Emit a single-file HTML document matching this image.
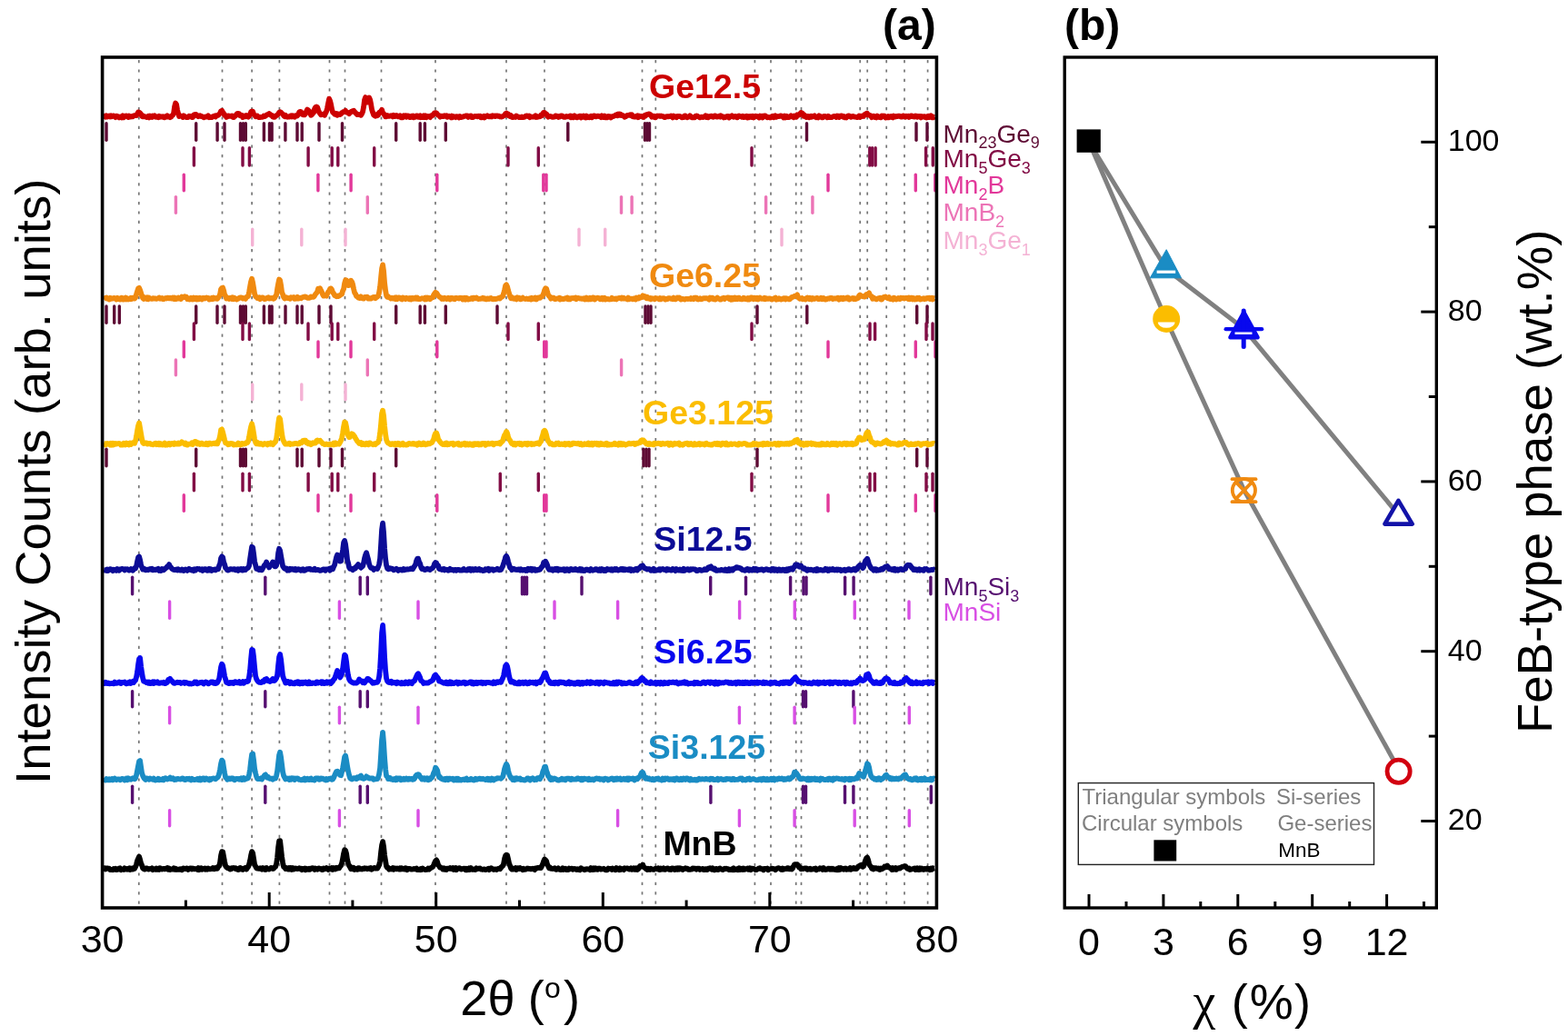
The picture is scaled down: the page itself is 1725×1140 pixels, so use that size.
<!DOCTYPE html>
<html><head><meta charset="utf-8"><title>XRD and FeB-type phase fraction</title>
<style>html,body{margin:0;padding:0;background:#fff;} svg{display:block;}</style></head>
<body>
<svg width="1725" height="1140" viewBox="0 0 1725 1140">
<rect width="1725" height="1140" fill="#fff"/>
<g stroke="#767676" stroke-width="1.7" stroke-dasharray="3.2 7.2" fill="none">
<line x1="152.8" y1="66" x2="152.8" y2="997"/>
<line x1="244.5" y1="66" x2="244.5" y2="997"/>
<line x1="277.1" y1="66" x2="277.1" y2="997"/>
<line x1="307.4" y1="66" x2="307.4" y2="997"/>
<line x1="362.5" y1="66" x2="362.5" y2="997"/>
<line x1="379.5" y1="66" x2="379.5" y2="997"/>
<line x1="419.5" y1="66" x2="419.5" y2="997"/>
<line x1="479.0" y1="66" x2="479.0" y2="997"/>
<line x1="557.0" y1="66" x2="557.0" y2="997"/>
<line x1="599.0" y1="66" x2="599.0" y2="997"/>
<line x1="706.5" y1="66" x2="706.5" y2="997"/>
<line x1="721.3" y1="66" x2="721.3" y2="997"/>
<line x1="830.4" y1="66" x2="830.4" y2="997"/>
<line x1="848.0" y1="66" x2="848.0" y2="997"/>
<line x1="875.7" y1="66" x2="875.7" y2="997"/>
<line x1="881.5" y1="66" x2="881.5" y2="997"/>
<line x1="946.2" y1="66" x2="946.2" y2="997"/>
<line x1="954.2" y1="66" x2="954.2" y2="997"/>
<line x1="975.2" y1="66" x2="975.2" y2="997"/>
<line x1="995.0" y1="66" x2="995.0" y2="997"/>
<line x1="1020.6" y1="66" x2="1020.6" y2="997"/>
</g>
<g stroke="#5e0b34" stroke-width="3.4" stroke-linecap="round">
<line x1="117.0" y1="135.8" x2="117.0" y2="154.2"/>
<line x1="215.7" y1="135.8" x2="215.7" y2="154.2"/>
<line x1="239.1" y1="135.8" x2="239.1" y2="154.2"/>
<line x1="247.0" y1="135.8" x2="247.0" y2="154.2"/>
<line x1="264.5" y1="135.8" x2="264.5" y2="154.2"/>
<line x1="267.5" y1="135.8" x2="267.5" y2="154.2"/>
<line x1="270.3" y1="135.8" x2="270.3" y2="154.2"/>
<line x1="290.4" y1="135.8" x2="290.4" y2="154.2"/>
<line x1="296.5" y1="135.8" x2="296.5" y2="154.2"/>
<line x1="299.1" y1="135.8" x2="299.1" y2="154.2"/>
<line x1="313.9" y1="135.8" x2="313.9" y2="154.2"/>
<line x1="327" y1="135.8" x2="327" y2="154.2"/>
<line x1="332.2" y1="135.8" x2="332.2" y2="154.2"/>
<line x1="351" y1="135.8" x2="351" y2="154.2"/>
<line x1="376.5" y1="135.8" x2="376.5" y2="154.2"/>
<line x1="435.7" y1="135.8" x2="435.7" y2="154.2"/>
<line x1="462.2" y1="135.8" x2="462.2" y2="154.2"/>
<line x1="467.4" y1="135.8" x2="467.4" y2="154.2"/>
<line x1="490.3" y1="135.8" x2="490.3" y2="154.2"/>
<line x1="624.8" y1="135.8" x2="624.8" y2="154.2"/>
<line x1="709.5" y1="135.8" x2="709.5" y2="154.2"/>
<line x1="712" y1="135.8" x2="712" y2="154.2"/>
<line x1="714.5" y1="135.8" x2="714.5" y2="154.2"/>
<line x1="887.5" y1="135.8" x2="887.5" y2="154.2"/>
<line x1="1008" y1="135.8" x2="1008" y2="154.2"/>
<line x1="1020" y1="135.8" x2="1020" y2="154.2"/>
</g>
<g stroke="#820c45" stroke-width="3.4" stroke-linecap="round">
<line x1="213.4" y1="162.7" x2="213.4" y2="182.1"/>
<line x1="267" y1="162.7" x2="267" y2="182.1"/>
<line x1="274.4" y1="162.7" x2="274.4" y2="182.1"/>
<line x1="339.1" y1="162.7" x2="339.1" y2="182.1"/>
<line x1="365.2" y1="162.7" x2="365.2" y2="182.1"/>
<line x1="371.8" y1="162.7" x2="371.8" y2="182.1"/>
<line x1="411.7" y1="162.7" x2="411.7" y2="182.1"/>
<line x1="559" y1="162.7" x2="559" y2="182.1"/>
<line x1="592.3" y1="162.7" x2="592.3" y2="182.1"/>
<line x1="827" y1="162.7" x2="827" y2="182.1"/>
<line x1="956.8" y1="162.7" x2="956.8" y2="182.1"/>
<line x1="959.6" y1="162.7" x2="959.6" y2="182.1"/>
<line x1="963.1" y1="162.7" x2="963.1" y2="182.1"/>
<line x1="1018.6" y1="162.7" x2="1018.6" y2="182.1"/>
<line x1="1026.3" y1="162.7" x2="1026.3" y2="182.1"/>
</g>
<g stroke="#e2389a" stroke-width="3.4" stroke-linecap="round">
<line x1="202.3" y1="192.2" x2="202.3" y2="209.8"/>
<line x1="349.9" y1="192.2" x2="349.9" y2="209.8"/>
<line x1="386.1" y1="192.2" x2="386.1" y2="209.8"/>
<line x1="480.8" y1="192.2" x2="480.8" y2="209.8"/>
<line x1="597.8" y1="192.2" x2="597.8" y2="209.8"/>
<line x1="601" y1="192.2" x2="601" y2="209.8"/>
<line x1="911" y1="192.2" x2="911" y2="209.8"/>
<line x1="1007.3" y1="192.2" x2="1007.3" y2="209.8"/>
<line x1="1028.8" y1="192.2" x2="1028.8" y2="209.8"/>
</g>
<g stroke="#ec74b6" stroke-width="3.4" stroke-linecap="round">
<line x1="193.4" y1="216.6" x2="193.4" y2="234.2"/>
<line x1="404.3" y1="216.6" x2="404.3" y2="234.2"/>
<line x1="683.5" y1="216.6" x2="683.5" y2="234.2"/>
<line x1="695.1" y1="216.6" x2="695.1" y2="234.2"/>
<line x1="842.6" y1="216.6" x2="842.6" y2="234.2"/>
<line x1="893.9" y1="216.6" x2="893.9" y2="234.2"/>
</g>
<g stroke="#f4b2d4" stroke-width="3.4" stroke-linecap="round">
<line x1="277.7" y1="252.2" x2="277.7" y2="269.8"/>
<line x1="331.8" y1="252.2" x2="331.8" y2="269.8"/>
<line x1="380" y1="252.2" x2="380" y2="269.8"/>
<line x1="637" y1="252.2" x2="637" y2="269.8"/>
<line x1="665.7" y1="252.2" x2="665.7" y2="269.8"/>
<line x1="860" y1="252.2" x2="860" y2="269.8"/>
</g>
<g stroke="#5e0b34" stroke-width="3.4" stroke-linecap="round">
<line x1="117" y1="336.9" x2="117" y2="355.3"/>
<line x1="125.7" y1="336.9" x2="125.7" y2="355.3"/>
<line x1="131.3" y1="336.9" x2="131.3" y2="355.3"/>
<line x1="215.7" y1="336.9" x2="215.7" y2="355.3"/>
<line x1="239" y1="336.9" x2="239" y2="355.3"/>
<line x1="247" y1="336.9" x2="247" y2="355.3"/>
<line x1="264.5" y1="336.9" x2="264.5" y2="355.3"/>
<line x1="267.5" y1="336.9" x2="267.5" y2="355.3"/>
<line x1="270.3" y1="336.9" x2="270.3" y2="355.3"/>
<line x1="290.4" y1="336.9" x2="290.4" y2="355.3"/>
<line x1="296.5" y1="336.9" x2="296.5" y2="355.3"/>
<line x1="299.1" y1="336.9" x2="299.1" y2="355.3"/>
<line x1="314" y1="336.9" x2="314" y2="355.3"/>
<line x1="327" y1="336.9" x2="327" y2="355.3"/>
<line x1="332.2" y1="336.9" x2="332.2" y2="355.3"/>
<line x1="351" y1="336.9" x2="351" y2="355.3"/>
<line x1="364" y1="336.9" x2="364" y2="355.3"/>
<line x1="435.7" y1="336.9" x2="435.7" y2="355.3"/>
<line x1="462.2" y1="336.9" x2="462.2" y2="355.3"/>
<line x1="467.4" y1="336.9" x2="467.4" y2="355.3"/>
<line x1="490.3" y1="336.9" x2="490.3" y2="355.3"/>
<line x1="547" y1="336.9" x2="547" y2="355.3"/>
<line x1="710" y1="336.9" x2="710" y2="355.3"/>
<line x1="713" y1="336.9" x2="713" y2="355.3"/>
<line x1="716" y1="336.9" x2="716" y2="355.3"/>
<line x1="833" y1="336.9" x2="833" y2="355.3"/>
<line x1="887.8" y1="336.9" x2="887.8" y2="355.3"/>
<line x1="1008.7" y1="336.9" x2="1008.7" y2="355.3"/>
<line x1="1020" y1="336.9" x2="1020" y2="355.3"/>
</g>
<g stroke="#820c45" stroke-width="3.4" stroke-linecap="round">
<line x1="213.4" y1="356.0" x2="213.4" y2="373.6"/>
<line x1="267" y1="356.0" x2="267" y2="373.6"/>
<line x1="274.4" y1="356.0" x2="274.4" y2="373.6"/>
<line x1="339" y1="356.0" x2="339" y2="373.6"/>
<line x1="365.2" y1="356.0" x2="365.2" y2="373.6"/>
<line x1="371.8" y1="356.0" x2="371.8" y2="373.6"/>
<line x1="411.7" y1="356.0" x2="411.7" y2="373.6"/>
<line x1="559" y1="356.0" x2="559" y2="373.6"/>
<line x1="592.3" y1="356.0" x2="592.3" y2="373.6"/>
<line x1="827" y1="356.0" x2="827" y2="373.6"/>
<line x1="957.0" y1="356.0" x2="957.0" y2="373.6"/>
<line x1="962.6" y1="356.0" x2="962.6" y2="373.6"/>
<line x1="1019" y1="356.0" x2="1019" y2="373.6"/>
<line x1="1026" y1="356.0" x2="1026" y2="373.6"/>
</g>
<g stroke="#e2389a" stroke-width="3.4" stroke-linecap="round">
<line x1="202.3" y1="376.0" x2="202.3" y2="392.8"/>
<line x1="350" y1="376.0" x2="350" y2="392.8"/>
<line x1="386" y1="376.0" x2="386" y2="392.8"/>
<line x1="480.8" y1="376.0" x2="480.8" y2="392.8"/>
<line x1="598.7" y1="376.0" x2="598.7" y2="392.8"/>
<line x1="601" y1="376.0" x2="601" y2="392.8"/>
<line x1="911" y1="376.0" x2="911" y2="392.8"/>
<line x1="1007.3" y1="376.0" x2="1007.3" y2="392.8"/>
<line x1="1029" y1="376.0" x2="1029" y2="392.8"/>
</g>
<g stroke="#ec74b6" stroke-width="3.4" stroke-linecap="round">
<line x1="193.4" y1="396.0" x2="193.4" y2="412.8"/>
<line x1="404.3" y1="396.0" x2="404.3" y2="412.8"/>
<line x1="683.6" y1="396.0" x2="683.6" y2="412.8"/>
</g>
<g stroke="#f4b2d4" stroke-width="3.4" stroke-linecap="round">
<line x1="277.7" y1="422.9" x2="277.7" y2="439.8"/>
<line x1="331.8" y1="422.9" x2="331.8" y2="439.8"/>
<line x1="380" y1="422.9" x2="380" y2="439.8"/>
</g>
<g stroke="#5e0b34" stroke-width="3.4" stroke-linecap="round">
<line x1="117" y1="494.2" x2="117" y2="512.8"/>
<line x1="215.7" y1="494.2" x2="215.7" y2="512.8"/>
<line x1="264.5" y1="494.2" x2="264.5" y2="512.8"/>
<line x1="267.5" y1="494.2" x2="267.5" y2="512.8"/>
<line x1="270.3" y1="494.2" x2="270.3" y2="512.8"/>
<line x1="327" y1="494.2" x2="327" y2="512.8"/>
<line x1="332.2" y1="494.2" x2="332.2" y2="512.8"/>
<line x1="351" y1="494.2" x2="351" y2="512.8"/>
<line x1="364" y1="494.2" x2="364" y2="512.8"/>
<line x1="376.5" y1="494.2" x2="376.5" y2="512.8"/>
<line x1="435.7" y1="494.2" x2="435.7" y2="512.8"/>
<line x1="708" y1="494.2" x2="708" y2="512.8"/>
<line x1="711" y1="494.2" x2="711" y2="512.8"/>
<line x1="714" y1="494.2" x2="714" y2="512.8"/>
<line x1="833" y1="494.2" x2="833" y2="512.8"/>
<line x1="1008.7" y1="494.2" x2="1008.7" y2="512.8"/>
<line x1="1020" y1="494.2" x2="1020" y2="512.8"/>
</g>
<g stroke="#820c45" stroke-width="3.4" stroke-linecap="round">
<line x1="213.4" y1="521.2" x2="213.4" y2="539.8"/>
<line x1="267" y1="521.2" x2="267" y2="539.8"/>
<line x1="274.4" y1="521.2" x2="274.4" y2="539.8"/>
<line x1="339.1" y1="521.2" x2="339.1" y2="539.8"/>
<line x1="365.2" y1="521.2" x2="365.2" y2="539.8"/>
<line x1="371.8" y1="521.2" x2="371.8" y2="539.8"/>
<line x1="411.7" y1="521.2" x2="411.7" y2="539.8"/>
<line x1="550.3" y1="521.2" x2="550.3" y2="539.8"/>
<line x1="592.3" y1="521.2" x2="592.3" y2="539.8"/>
<line x1="827" y1="521.2" x2="827" y2="539.8"/>
<line x1="957.0" y1="521.2" x2="957.0" y2="539.8"/>
<line x1="962.4" y1="521.2" x2="962.4" y2="539.8"/>
<line x1="1019" y1="521.2" x2="1019" y2="539.8"/>
<line x1="1026" y1="521.2" x2="1026" y2="539.8"/>
</g>
<g stroke="#e2389a" stroke-width="3.4" stroke-linecap="round">
<line x1="202.3" y1="544.7" x2="202.3" y2="562.3"/>
<line x1="350" y1="544.7" x2="350" y2="562.3"/>
<line x1="386" y1="544.7" x2="386" y2="562.3"/>
<line x1="480.8" y1="544.7" x2="480.8" y2="562.3"/>
<line x1="598.7" y1="544.7" x2="598.7" y2="562.3"/>
<line x1="601" y1="544.7" x2="601" y2="562.3"/>
<line x1="911" y1="544.7" x2="911" y2="562.3"/>
<line x1="1007.3" y1="544.7" x2="1007.3" y2="562.3"/>
<line x1="1029" y1="544.7" x2="1029" y2="562.3"/>
</g>
<g stroke="#561070" stroke-width="3.4" stroke-linecap="round">
<line x1="145.6" y1="635.2" x2="145.6" y2="653.8"/>
<line x1="291.8" y1="635.2" x2="291.8" y2="653.8"/>
<line x1="396.2" y1="635.2" x2="396.2" y2="653.8"/>
<line x1="404.3" y1="635.2" x2="404.3" y2="653.8"/>
<line x1="574.5" y1="635.2" x2="574.5" y2="653.8"/>
<line x1="577" y1="635.2" x2="577" y2="653.8"/>
<line x1="579.5" y1="635.2" x2="579.5" y2="653.8"/>
<line x1="640" y1="635.2" x2="640" y2="653.8"/>
<line x1="781.7" y1="635.2" x2="781.7" y2="653.8"/>
<line x1="820.5" y1="635.2" x2="820.5" y2="653.8"/>
<line x1="869.6" y1="635.2" x2="869.6" y2="653.8"/>
<line x1="884" y1="635.2" x2="884" y2="653.8"/>
<line x1="887" y1="635.2" x2="887" y2="653.8"/>
<line x1="929.6" y1="635.2" x2="929.6" y2="653.8"/>
<line x1="939.1" y1="635.2" x2="939.1" y2="653.8"/>
<line x1="1023.9" y1="635.2" x2="1023.9" y2="653.8"/>
</g>
<g stroke="#d84fe4" stroke-width="3.4" stroke-linecap="round">
<line x1="186.6" y1="661.9" x2="186.6" y2="680.3"/>
<line x1="373.4" y1="661.9" x2="373.4" y2="680.3"/>
<line x1="460" y1="661.9" x2="460" y2="680.3"/>
<line x1="610" y1="661.9" x2="610" y2="680.3"/>
<line x1="679.6" y1="661.9" x2="679.6" y2="680.3"/>
<line x1="813.6" y1="661.9" x2="813.6" y2="680.3"/>
<line x1="874.3" y1="661.9" x2="874.3" y2="680.3"/>
<line x1="940.3" y1="661.9" x2="940.3" y2="680.3"/>
<line x1="1000" y1="661.9" x2="1000" y2="680.3"/>
</g>
<g stroke="#561070" stroke-width="3.4" stroke-linecap="round">
<line x1="145.6" y1="760.8" x2="145.6" y2="777.8"/>
<line x1="291.8" y1="760.8" x2="291.8" y2="777.8"/>
<line x1="396.2" y1="760.8" x2="396.2" y2="777.8"/>
<line x1="404.3" y1="760.8" x2="404.3" y2="777.8"/>
<line x1="883.5" y1="760.8" x2="883.5" y2="777.8"/>
<line x1="886.5" y1="760.8" x2="886.5" y2="777.8"/>
<line x1="938.9" y1="760.8" x2="938.9" y2="777.8"/>
</g>
<g stroke="#d84fe4" stroke-width="3.4" stroke-linecap="round">
<line x1="186.6" y1="778.2" x2="186.6" y2="795.8"/>
<line x1="373.4" y1="778.2" x2="373.4" y2="795.8"/>
<line x1="460" y1="778.2" x2="460" y2="795.8"/>
<line x1="813.4" y1="778.2" x2="813.4" y2="795.8"/>
<line x1="874.1" y1="778.2" x2="874.1" y2="795.8"/>
<line x1="940.2" y1="778.2" x2="940.2" y2="795.8"/>
<line x1="1000.3" y1="778.2" x2="1000.3" y2="795.8"/>
</g>
<g stroke="#561070" stroke-width="3.4" stroke-linecap="round">
<line x1="145.6" y1="865.2" x2="145.6" y2="883.3"/>
<line x1="291.8" y1="865.2" x2="291.8" y2="883.3"/>
<line x1="396.2" y1="865.2" x2="396.2" y2="883.3"/>
<line x1="404.3" y1="865.2" x2="404.3" y2="883.3"/>
<line x1="781.9" y1="865.2" x2="781.9" y2="883.3"/>
<line x1="883.5" y1="865.2" x2="883.5" y2="883.3"/>
<line x1="886.5" y1="865.2" x2="886.5" y2="883.3"/>
<line x1="929.5" y1="865.2" x2="929.5" y2="883.3"/>
<line x1="938.9" y1="865.2" x2="938.9" y2="883.3"/>
<line x1="1024.3" y1="865.2" x2="1024.3" y2="883.3"/>
</g>
<g stroke="#d84fe4" stroke-width="3.4" stroke-linecap="round">
<line x1="186.6" y1="891.7" x2="186.6" y2="908.8"/>
<line x1="373.4" y1="891.7" x2="373.4" y2="908.8"/>
<line x1="460" y1="891.7" x2="460" y2="908.8"/>
<line x1="679.6" y1="891.7" x2="679.6" y2="908.8"/>
<line x1="813.4" y1="891.7" x2="813.4" y2="908.8"/>
<line x1="874.1" y1="891.7" x2="874.1" y2="908.8"/>
<line x1="940.2" y1="891.7" x2="940.2" y2="908.8"/>
<line x1="1000.3" y1="891.7" x2="1000.3" y2="908.8"/>
</g>
<polyline fill="none" stroke="#cc0000" stroke-width="5.8" stroke-linejoin="round" points="114.1,128.0 115.1,127.6 116.1,128.7 117.1,127.4 118.1,128.5 119.1,128.1 120.1,127.4 121.1,128.4 122.1,127.4 123.1,128.2 124.1,127.4 125.1,127.5 126.1,128.2 127.1,129.1 128.1,127.6 129.1,127.8 130.1,128.7 131.1,129.4 132.1,128.5 133.1,128.1 134.1,129.4 135.1,127.4 136.1,129.2 137.1,127.9 138.1,127.6 139.1,127.5 140.1,127.9 141.1,129.0 142.1,127.6 143.1,128.5 144.1,128.6 145.1,128.0 146.1,128.4 147.1,127.3 148.1,127.1 149.1,127.0 150.1,127.1 151.1,125.2 152.1,123.5 153.1,123.6 154.1,124.3 155.1,125.5 156.1,127.8 157.1,128.3 158.1,127.6 159.1,128.4 160.1,128.3 161.1,129.1 162.1,128.8 163.1,127.9 164.1,129.4 165.1,127.5 166.1,128.2 167.1,128.9 168.1,127.6 169.1,128.3 170.1,127.3 171.1,128.7 172.1,128.9 173.1,128.5 174.1,129.2 175.1,127.9 176.1,128.8 177.1,128.5 178.1,128.5 179.1,128.2 180.1,129.1 181.1,129.3 182.1,128.2 183.1,128.6 184.1,127.3 185.1,128.7 186.1,128.5 187.1,129.2 188.1,128.7 189.1,127.3 190.1,126.6 191.1,124.3 192.1,117.2 193.1,113.5 194.1,115.1 195.1,121.1 196.1,125.0 197.1,128.1 198.1,127.2 199.1,127.5 200.1,127.9 201.1,129.0 202.1,127.3 203.1,128.2 204.1,128.4 205.1,129.1 206.1,129.0 207.1,129.1 208.1,127.8 209.1,128.1 210.1,128.0 211.1,129.0 212.1,129.0 213.1,126.7 214.1,126.0 215.1,125.8 216.1,126.2 217.1,127.5 218.1,128.2 219.1,127.7 220.1,127.2 221.1,128.1 222.1,128.0 223.1,128.5 224.1,129.3 225.1,128.8 226.1,128.4 227.1,128.6 228.1,128.7 229.1,127.4 230.1,129.2 231.1,128.9 232.1,129.1 233.1,129.0 234.1,128.1 235.1,128.1 236.1,127.4 237.1,128.5 238.1,127.2 239.1,127.0 240.1,126.8 241.1,125.7 242.1,124.5 243.1,122.3 244.1,121.8 245.1,123.4 246.1,124.9 247.1,126.8 248.1,126.8 249.1,128.9 250.1,128.4 251.1,127.4 252.1,127.7 253.1,127.9 254.1,127.9 255.1,127.4 256.1,129.0 257.1,129.2 258.1,127.9 259.1,127.6 260.1,125.9 261.1,125.0 262.1,125.0 263.1,125.1 264.1,127.2 265.1,126.6 266.1,126.8 267.1,129.1 268.1,128.2 269.1,127.4 270.1,128.3 271.1,127.1 272.1,128.1 273.1,128.7 274.1,127.7 275.1,125.9 276.1,123.2 277.1,122.5 278.1,122.7 279.1,125.7 280.1,126.7 281.1,128.2 282.1,127.6 283.1,127.5 284.1,128.8 285.1,129.2 286.1,129.0 287.1,128.9 288.1,128.9 289.1,128.7 290.1,127.6 291.1,128.2 292.1,127.7 293.1,126.7 294.1,126.1 295.1,125.7 296.1,124.9 297.1,125.7 298.1,127.0 299.1,126.8 300.1,128.5 301.1,128.9 302.1,128.9 303.1,127.6 304.1,127.1 305.1,126.6 306.1,125.4 307.1,123.8 308.1,123.2 309.1,123.6 310.1,124.8 311.1,125.7 312.1,127.3 313.1,128.2 314.1,126.9 315.1,128.2 316.1,128.8 317.1,128.5 318.1,128.5 319.1,127.8 320.1,127.2 321.1,128.5 322.1,127.4 323.1,128.4 324.1,128.7 325.1,127.3 326.1,126.9 327.1,127.4 328.1,126.0 329.1,123.6 330.1,122.8 331.1,123.0 332.1,125.5 333.1,126.2 334.1,125.2 335.1,126.3 336.1,125.3 337.1,122.6 338.1,120.5 339.1,121.3 340.1,122.2 341.1,123.7 342.1,126.8 343.1,126.1 344.1,124.9 345.1,123.8 346.1,119.7 347.1,118.0 348.1,117.4 349.1,118.0 350.1,121.0 351.1,123.6 352.1,124.9 353.1,126.3 354.1,125.8 355.1,126.1 356.1,125.4 357.1,126.8 358.1,124.6 359.1,122.6 360.1,118.6 361.1,113.7 362.1,108.7 363.1,110.9 364.1,115.0 365.1,120.3 366.1,123.7 367.1,124.2 368.1,125.7 369.1,125.3 370.1,125.0 371.1,126.8 372.1,125.4 373.1,125.9 374.1,126.2 375.1,125.3 376.1,124.1 377.1,123.6 378.1,122.8 379.1,123.0 380.1,121.8 381.1,123.6 382.1,123.7 383.1,124.2 384.1,125.2 385.1,124.0 386.1,123.1 387.1,122.5 388.1,122.4 389.1,121.7 390.1,123.1 391.1,124.1 392.1,125.1 393.1,126.1 394.1,125.9 395.1,126.2 396.1,126.1 397.1,126.8 398.1,125.2 399.1,122.8 400.1,117.6 401.1,109.7 402.1,107.1 403.1,110.1 404.1,112.5 405.1,109.9 406.1,107.4 407.1,109.6 408.1,114.6 409.1,120.7 410.1,123.8 411.1,126.5 412.1,127.3 413.1,127.7 414.1,126.2 415.1,127.2 416.1,126.4 417.1,123.9 418.1,123.6 419.1,122.3 420.1,120.9 421.1,124.3 422.1,125.1 423.1,126.6 424.1,128.4 425.1,128.3 426.1,127.0 427.1,127.6 428.1,127.9 429.1,127.5 430.1,127.2 431.1,127.5 432.1,128.4 433.1,126.9 434.1,128.1 435.1,127.9 436.1,127.0 437.1,127.7 438.1,128.4 439.1,128.1 440.1,127.2 441.1,129.2 442.1,128.8 443.1,129.2 444.1,127.3 445.1,127.7 446.1,127.2 447.1,128.8 448.1,127.7 449.1,127.4 450.1,128.1 451.1,129.2 452.1,129.0 453.1,127.7 454.1,127.5 455.1,129.2 456.1,128.4 457.1,128.7 458.1,127.4 459.1,127.3 460.1,128.7 461.1,128.1 462.1,127.4 463.1,129.3 464.1,128.6 465.1,129.0 466.1,127.4 467.1,129.1 468.1,127.3 469.1,129.1 470.1,128.2 471.1,127.9 472.1,128.3 473.1,129.1 474.1,127.5 475.1,126.8 476.1,127.0 477.1,125.4 478.1,124.3 479.1,124.1 480.1,124.3 481.1,125.6 482.1,126.7 483.1,127.3 484.1,128.6 485.1,127.7 486.1,128.2 487.1,127.6 488.1,128.0 489.1,127.2 490.1,127.8 491.1,127.3 492.1,128.8 493.1,128.4 494.1,127.7 495.1,128.3 496.1,129.3 497.1,127.5 498.1,129.1 499.1,128.2 500.1,128.3 501.1,129.1 502.1,128.1 503.1,128.4 504.1,128.8 505.1,129.4 506.1,128.0 507.1,129.1 508.1,128.8 509.1,128.7 510.1,128.2 511.1,128.0 512.1,127.4 513.1,127.6 514.1,127.4 515.1,128.9 516.1,127.8 517.1,127.6 518.1,127.5 519.1,129.1 520.1,129.2 521.1,128.7 522.1,127.9 523.1,127.8 524.1,127.9 525.1,128.3 526.1,127.6 527.1,128.2 528.1,127.8 529.1,129.4 530.1,129.4 531.1,128.5 532.1,127.8 533.1,129.4 534.1,127.9 535.1,128.1 536.1,127.3 537.1,128.1 538.1,128.3 539.1,128.4 540.1,127.7 541.1,128.4 542.1,127.3 543.1,127.8 544.1,127.4 545.1,128.1 546.1,127.3 547.1,127.3 548.1,127.9 549.1,127.7 550.1,128.5 551.1,128.3 552.1,128.6 553.1,128.0 554.1,127.4 555.1,126.9 556.1,125.0 557.1,124.5 558.1,126.4 559.1,125.5 560.1,127.6 561.1,128.0 562.1,127.1 563.1,128.9 564.1,129.1 565.1,128.6 566.1,128.8 567.1,129.0 568.1,127.5 569.1,128.4 570.1,128.4 571.1,129.1 572.1,129.0 573.1,129.1 574.1,128.5 575.1,129.2 576.1,128.8 577.1,128.8 578.1,127.8 579.1,127.3 580.1,127.6 581.1,128.1 582.1,127.5 583.1,129.1 584.1,128.5 585.1,128.6 586.1,128.6 587.1,128.7 588.1,128.3 589.1,127.2 590.1,129.0 591.1,128.8 592.1,128.3 593.1,128.2 594.1,128.3 595.1,126.6 596.1,127.3 597.1,125.2 598.1,123.8 599.1,123.9 600.1,125.4 601.1,125.3 602.1,127.5 603.1,128.7 604.1,128.0 605.1,127.9 606.1,128.2 607.1,128.7 608.1,128.9 609.1,128.6 610.1,128.7 611.1,127.4 612.1,127.6 613.1,127.8 614.1,128.9 615.1,127.9 616.1,128.5 617.1,127.3 618.1,127.4 619.1,127.9 620.1,128.8 621.1,128.8 622.1,128.8 623.1,127.9 624.1,128.4 625.1,128.3 626.1,128.3 627.1,127.5 628.1,129.2 629.1,127.7 630.1,129.4 631.1,129.3 632.1,127.3 633.1,128.3 634.1,129.1 635.1,129.4 636.1,128.3 637.1,127.9 638.1,127.7 639.1,129.4 640.1,127.7 641.1,128.6 642.1,127.6 643.1,128.4 644.1,129.4 645.1,127.6 646.1,129.1 647.1,128.4 648.1,129.2 649.1,128.8 650.1,127.8 651.1,129.3 652.1,128.4 653.1,127.3 654.1,127.3 655.1,128.4 656.1,128.3 657.1,127.9 658.1,127.6 659.1,128.0 660.1,128.0 661.1,129.1 662.1,127.3 663.1,128.9 664.1,129.1 665.1,127.5 666.1,129.3 667.1,128.8 668.1,129.2 669.1,127.9 670.1,128.1 671.1,128.1 672.1,129.4 673.1,128.5 674.1,127.9 675.1,128.0 676.1,127.5 677.1,126.6 678.1,126.2 679.1,127.3 680.1,125.6 681.1,126.8 682.1,125.5 683.1,126.1 684.1,127.2 685.1,126.9 686.1,127.5 687.1,128.8 688.1,128.4 689.1,127.8 690.1,126.8 691.1,126.9 692.1,126.8 693.1,126.2 694.1,127.1 695.1,126.2 696.1,128.2 697.1,127.9 698.1,128.7 699.1,128.6 700.1,127.8 701.1,127.3 702.1,129.2 703.1,127.5 704.1,128.2 705.1,127.9 706.1,127.8 707.1,128.7 708.1,129.0 709.1,127.1 710.1,127.5 711.1,126.1 712.1,126.2 713.1,125.6 714.1,125.4 715.1,125.9 716.1,126.6 717.1,128.6 718.1,128.0 719.1,127.6 720.1,129.2 721.1,129.4 722.1,128.2 723.1,127.5 724.1,127.7 725.1,127.5 726.1,128.0 727.1,127.5 728.1,127.8 729.1,127.8 730.1,128.5 731.1,129.2 732.1,128.9 733.1,128.2 734.1,128.2 735.1,128.4 736.1,128.1 737.1,128.0 738.1,127.4 739.1,127.9 740.1,129.4 741.1,127.6 742.1,128.4 743.1,128.7 744.1,129.2 745.1,127.8 746.1,127.9 747.1,127.8 748.1,128.2 749.1,128.3 750.1,129.4 751.1,129.2 752.1,129.2 753.1,127.3 754.1,127.4 755.1,128.9 756.1,129.3 757.1,128.3 758.1,128.6 759.1,127.3 760.1,128.2 761.1,129.3 762.1,129.1 763.1,129.2 764.1,129.4 765.1,127.8 766.1,127.5 767.1,127.6 768.1,128.4 769.1,128.8 770.1,129.4 771.1,128.9 772.1,128.7 773.1,129.0 774.1,128.3 775.1,128.5 776.1,127.4 777.1,129.0 778.1,127.8 779.1,129.3 780.1,128.7 781.1,128.0 782.1,127.6 783.1,127.9 784.1,128.7 785.1,128.8 786.1,127.5 787.1,127.5 788.1,128.5 789.1,128.6 790.1,128.2 791.1,127.8 792.1,128.6 793.1,127.3 794.1,128.0 795.1,128.3 796.1,129.4 797.1,128.7 798.1,129.2 799.1,128.3 800.1,127.8 801.1,127.8 802.1,129.4 803.1,128.8 804.1,128.0 805.1,127.3 806.1,128.4 807.1,128.8 808.1,128.2 809.1,127.9 810.1,128.8 811.1,129.3 812.1,127.8 813.1,127.4 814.1,128.0 815.1,128.2 816.1,128.8 817.1,127.7 818.1,129.1 819.1,128.9 820.1,128.4 821.1,127.7 822.1,129.4 823.1,128.0 824.1,129.1 825.1,127.8 826.1,127.8 827.1,129.0 828.1,127.9 829.1,129.4 830.1,128.4 831.1,127.7 832.1,127.8 833.1,128.2 834.1,128.8 835.1,129.4 836.1,127.6 837.1,128.2 838.1,127.8 839.1,129.4 840.1,127.6 841.1,127.4 842.1,127.4 843.1,128.2 844.1,129.3 845.1,129.2 846.1,128.9 847.1,129.5 848.1,129.3 849.1,128.0 850.1,127.7 851.1,129.3 852.1,128.9 853.1,127.4 854.1,128.7 855.1,128.1 856.1,128.1 857.1,128.0 858.1,127.7 859.1,127.3 860.1,127.9 861.1,128.1 862.1,129.4 863.1,127.5 864.1,129.4 865.1,127.7 866.1,128.1 867.1,129.1 868.1,129.1 869.1,128.2 870.1,127.3 871.1,128.3 872.1,128.0 873.1,129.2 874.1,127.5 875.1,127.8 876.1,128.7 877.1,126.3 878.1,126.5 879.1,126.5 880.1,125.7 881.1,123.9 882.1,124.2 883.1,125.0 884.1,127.7 885.1,126.9 886.1,128.4 887.1,129.0 888.1,127.9 889.1,127.8 890.1,129.3 891.1,128.6 892.1,127.8 893.1,128.8 894.1,128.0 895.1,127.9 896.1,127.3 897.1,128.9 898.1,129.3 899.1,128.7 900.1,129.4 901.1,127.3 902.1,127.8 903.1,128.3 904.1,129.4 905.1,129.4 906.1,128.1 907.1,127.8 908.1,128.2 909.1,128.4 910.1,129.3 911.1,127.7 912.1,129.1 913.1,128.9 914.1,129.1 915.1,129.0 916.1,128.6 917.1,128.0 918.1,128.0 919.1,128.1 920.1,129.0 921.1,127.5 922.1,127.7 923.1,128.9 924.1,127.8 925.1,127.4 926.1,127.4 927.1,128.5 928.1,128.0 929.1,129.4 930.1,129.2 931.1,129.5 932.1,127.9 933.1,127.5 934.1,127.5 935.1,128.4 936.1,128.8 937.1,128.3 938.1,127.8 939.1,128.2 940.1,128.6 941.1,128.7 942.1,128.9 943.1,129.1 944.1,128.7 945.1,127.5 946.1,129.0 947.1,127.8 948.1,128.2 949.1,127.5 950.1,127.9 951.1,126.0 952.1,125.5 953.1,124.9 954.1,124.7 955.1,126.7 956.1,126.7 957.1,126.8 958.1,127.5 959.1,129.1 960.1,128.2 961.1,127.7 962.1,129.0 963.1,128.7 964.1,129.4 965.1,127.5 966.1,128.3 967.1,129.1 968.1,129.1 969.1,129.3 970.1,127.4 971.1,127.9 972.1,127.5 973.1,127.7 974.1,129.4 975.1,128.6 976.1,129.3 977.1,128.1 978.1,129.2 979.1,128.3 980.1,127.9 981.1,129.0 982.1,129.4 983.1,127.5 984.1,128.6 985.1,128.7 986.1,127.8 987.1,128.1 988.1,127.6 989.1,127.7 990.1,127.9 991.1,128.6 992.1,128.7 993.1,127.7 994.1,127.3 995.1,128.0 996.1,128.8 997.1,127.7 998.1,128.0 999.1,127.7 1000.1,129.0 1001.1,128.5 1002.1,127.4 1003.1,127.5 1004.1,128.2 1005.1,128.5 1006.1,128.7 1007.1,127.5 1008.1,127.7 1009.1,128.8 1010.1,128.2 1011.1,127.9 1012.1,128.0 1013.1,129.4 1014.1,128.0 1015.1,128.5 1016.1,128.1 1017.1,128.2 1018.1,129.2 1019.1,129.5 1020.1,128.1 1021.1,127.7 1022.1,128.9 1023.1,127.7 1024.1,127.3 1025.1,129.3 1026.1,128.2 1027.1,129.1 1028.1,128.2"/>
<polyline fill="none" stroke="#f08a10" stroke-width="5.8" stroke-linejoin="round" points="114.1,329.4 115.1,328.5 116.1,327.8 117.1,327.5 118.1,328.7 119.1,328.9 120.1,329.5 121.1,327.7 122.1,328.8 123.1,328.3 124.1,328.6 125.1,327.8 126.1,328.1 127.1,328.6 128.1,329.5 129.1,327.7 130.1,328.5 131.1,329.2 132.1,329.6 133.1,327.9 134.1,327.7 135.1,329.5 136.1,329.6 137.1,328.5 138.1,327.5 139.1,329.5 140.1,328.3 141.1,329.4 142.1,328.7 143.1,329.2 144.1,327.7 145.1,329.0 146.1,327.7 147.1,327.9 148.1,328.5 149.1,327.4 150.1,323.7 151.1,320.3 152.1,317.3 153.1,316.8 154.1,319.1 155.1,322.3 156.1,325.4 157.1,327.9 158.1,328.9 159.1,327.2 160.1,328.5 161.1,329.0 162.1,327.4 163.1,329.2 164.1,327.6 165.1,328.7 166.1,328.6 167.1,328.8 168.1,328.1 169.1,328.4 170.1,328.7 171.1,328.4 172.1,328.9 173.1,328.4 174.1,328.4 175.1,327.5 176.1,328.8 177.1,328.5 178.1,328.0 179.1,329.1 180.1,329.2 181.1,328.5 182.1,327.9 183.1,328.5 184.1,327.7 185.1,327.7 186.1,328.4 187.1,327.7 188.1,328.4 189.1,328.6 190.1,327.5 191.1,328.9 192.1,327.6 193.1,329.1 194.1,329.1 195.1,328.5 196.1,327.5 197.1,328.5 198.1,328.1 199.1,329.0 200.1,326.6 201.1,327.3 202.1,326.8 203.1,326.2 204.1,327.2 205.1,326.7 206.1,329.1 207.1,328.3 208.1,329.5 209.1,329.4 210.1,327.8 211.1,329.2 212.1,329.5 213.1,327.6 214.1,328.2 215.1,329.1 216.1,327.8 217.1,329.4 218.1,328.1 219.1,329.2 220.1,327.8 221.1,328.5 222.1,329.5 223.1,327.9 224.1,328.0 225.1,328.5 226.1,328.1 227.1,327.5 228.1,327.8 229.1,327.8 230.1,329.5 231.1,328.9 232.1,329.3 233.1,327.7 234.1,329.1 235.1,327.6 236.1,328.4 237.1,328.6 238.1,327.9 239.1,328.8 240.1,327.5 241.1,326.0 242.1,323.8 243.1,318.1 244.1,317.0 245.1,316.6 246.1,319.6 247.1,324.3 248.1,325.7 249.1,328.6 250.1,328.2 251.1,327.9 252.1,328.9 253.1,328.2 254.1,327.7 255.1,328.9 256.1,327.4 257.1,329.1 258.1,327.9 259.1,328.7 260.1,329.5 261.1,328.6 262.1,328.8 263.1,328.0 264.1,327.3 265.1,327.3 266.1,327.5 267.1,328.5 268.1,328.1 269.1,328.2 270.1,328.9 271.1,327.0 272.1,326.6 273.1,326.0 274.1,321.1 275.1,315.2 276.1,309.8 277.1,306.7 278.1,310.9 279.1,317.0 280.1,323.2 281.1,326.3 282.1,326.7 283.1,328.1 284.1,328.0 285.1,327.3 286.1,329.2 287.1,327.7 288.1,327.5 289.1,327.4 290.1,328.6 291.1,329.1 292.1,328.9 293.1,328.1 294.1,327.8 295.1,327.2 296.1,328.6 297.1,328.4 298.1,327.9 299.1,328.4 300.1,327.9 301.1,328.8 302.1,328.0 303.1,325.8 304.1,324.6 305.1,317.8 306.1,312.4 307.1,307.5 308.1,308.4 309.1,313.9 310.1,321.6 311.1,323.9 312.1,327.0 313.1,328.5 314.1,327.0 315.1,327.3 316.1,328.2 317.1,328.0 318.1,328.4 319.1,328.8 320.1,327.3 321.1,327.7 322.1,327.6 323.1,327.0 324.1,328.9 325.1,328.6 326.1,328.4 327.1,326.8 328.1,328.6 329.1,328.4 330.1,327.7 331.1,328.3 332.1,327.6 333.1,327.0 334.1,326.7 335.1,326.9 336.1,326.4 337.1,327.0 338.1,327.8 339.1,327.6 340.1,327.9 341.1,327.5 342.1,326.4 343.1,326.9 344.1,326.4 345.1,326.7 346.1,325.4 347.1,323.6 348.1,322.5 349.1,321.1 350.1,317.6 351.1,318.3 352.1,317.3 353.1,319.6 354.1,321.6 355.1,324.3 356.1,325.7 357.1,325.7 358.1,324.8 359.1,325.6 360.1,323.3 361.1,321.2 362.1,320.3 363.1,317.7 364.1,317.4 365.1,318.8 366.1,321.9 367.1,322.9 368.1,325.1 369.1,325.5 370.1,326.2 371.1,325.4 372.1,326.0 373.1,325.6 374.1,324.9 375.1,324.1 376.1,323.8 377.1,320.1 378.1,318.0 379.1,311.8 380.1,308.2 381.1,308.4 382.1,312.9 383.1,314.1 384.1,313.9 385.1,311.4 386.1,308.8 387.1,310.0 388.1,313.0 389.1,317.8 390.1,322.1 391.1,323.4 392.1,326.0 393.1,326.2 394.1,327.6 395.1,327.8 396.1,328.1 397.1,326.4 398.1,328.2 399.1,328.4 400.1,328.6 401.1,326.8 402.1,327.0 403.1,326.9 404.1,326.7 405.1,328.6 406.1,328.5 407.1,328.1 408.1,328.6 409.1,328.1 410.1,327.3 411.1,326.9 412.1,326.8 413.1,328.2 414.1,326.8 415.1,326.6 416.1,325.7 417.1,321.8 418.1,315.7 419.1,305.3 420.1,295.5 421.1,291.4 422.1,298.5 423.1,311.4 424.1,319.5 425.1,325.3 426.1,326.8 427.1,326.3 428.1,327.5 429.1,327.7 430.1,328.6 431.1,327.8 432.1,328.6 433.1,328.3 434.1,327.6 435.1,329.1 436.1,327.4 437.1,329.1 438.1,327.7 439.1,327.3 440.1,327.8 441.1,329.0 442.1,329.5 443.1,327.4 444.1,328.4 445.1,328.4 446.1,329.1 447.1,327.8 448.1,328.5 449.1,328.1 450.1,329.2 451.1,328.0 452.1,329.5 453.1,328.0 454.1,327.9 455.1,328.9 456.1,328.5 457.1,327.6 458.1,328.8 459.1,327.6 460.1,329.1 461.1,328.9 462.1,329.1 463.1,328.8 464.1,328.2 465.1,328.3 466.1,328.3 467.1,329.4 468.1,327.6 469.1,329.3 470.1,327.4 471.1,327.8 472.1,327.9 473.1,329.2 474.1,328.1 475.1,327.3 476.1,327.4 477.1,324.4 478.1,323.1 479.1,321.8 480.1,322.3 481.1,323.7 482.1,325.4 483.1,326.3 484.1,327.2 485.1,327.3 486.1,329.0 487.1,328.7 488.1,329.0 489.1,327.7 490.1,328.3 491.1,329.1 492.1,328.7 493.1,327.7 494.1,328.4 495.1,329.4 496.1,328.0 497.1,327.9 498.1,328.1 499.1,329.0 500.1,329.3 501.1,327.8 502.1,327.8 503.1,328.0 504.1,328.2 505.1,328.6 506.1,327.8 507.1,328.2 508.1,327.9 509.1,329.6 510.1,329.1 511.1,327.7 512.1,329.6 513.1,327.7 514.1,328.3 515.1,329.6 516.1,329.2 517.1,329.1 518.1,328.4 519.1,327.9 520.1,328.9 521.1,327.7 522.1,327.9 523.1,328.3 524.1,327.5 525.1,328.3 526.1,329.2 527.1,329.0 528.1,328.6 529.1,328.8 530.1,328.5 531.1,327.8 532.1,328.8 533.1,328.3 534.1,329.1 535.1,329.4 536.1,328.4 537.1,328.7 538.1,329.1 539.1,328.3 540.1,327.9 541.1,329.0 542.1,329.3 543.1,329.1 544.1,328.9 545.1,329.2 546.1,328.8 547.1,328.7 548.1,328.2 549.1,327.8 550.1,328.4 551.1,326.9 552.1,326.8 553.1,326.0 554.1,322.9 555.1,318.9 556.1,314.4 557.1,313.4 558.1,315.5 559.1,319.7 560.1,322.9 561.1,326.1 562.1,328.1 563.1,327.1 564.1,328.5 565.1,328.8 566.1,328.1 567.1,328.3 568.1,329.4 569.1,327.4 570.1,328.5 571.1,327.7 572.1,329.1 573.1,329.4 574.1,328.5 575.1,327.6 576.1,328.7 577.1,328.6 578.1,329.0 579.1,328.5 580.1,328.8 581.1,329.2 582.1,328.6 583.1,328.3 584.1,329.5 585.1,327.9 586.1,328.9 587.1,328.2 588.1,329.0 589.1,327.6 590.1,329.5 591.1,328.1 592.1,327.4 593.1,327.8 594.1,327.9 595.1,326.6 596.1,326.6 597.1,324.9 598.1,322.9 599.1,319.2 600.1,317.2 601.1,317.6 602.1,321.2 603.1,324.5 604.1,325.9 605.1,326.6 606.1,328.6 607.1,327.9 608.1,327.7 609.1,327.6 610.1,329.0 611.1,329.1 612.1,328.8 613.1,328.4 614.1,328.6 615.1,327.9 616.1,329.5 617.1,328.2 618.1,328.8 619.1,329.2 620.1,329.2 621.1,328.5 622.1,328.1 623.1,328.7 624.1,327.7 625.1,329.3 626.1,328.2 627.1,329.3 628.1,328.1 629.1,328.3 630.1,328.0 631.1,328.4 632.1,327.9 633.1,327.5 634.1,329.1 635.1,328.1 636.1,328.0 637.1,328.1 638.1,328.5 639.1,328.4 640.1,328.9 641.1,328.9 642.1,328.3 643.1,329.5 644.1,329.4 645.1,327.6 646.1,329.3 647.1,329.5 648.1,329.2 649.1,327.8 650.1,329.3 651.1,328.9 652.1,327.5 653.1,327.5 654.1,329.6 655.1,328.9 656.1,328.0 657.1,327.7 658.1,327.8 659.1,328.0 660.1,329.2 661.1,328.3 662.1,327.8 663.1,329.5 664.1,329.2 665.1,327.9 666.1,329.5 667.1,328.8 668.1,329.2 669.1,329.0 670.1,329.5 671.1,329.2 672.1,329.3 673.1,327.9 674.1,329.0 675.1,328.7 676.1,329.1 677.1,328.5 678.1,329.4 679.1,328.7 680.1,328.1 681.1,328.0 682.1,327.8 683.1,328.6 684.1,327.6 685.1,328.5 686.1,327.8 687.1,328.6 688.1,328.6 689.1,328.7 690.1,329.4 691.1,327.5 692.1,329.3 693.1,328.5 694.1,328.7 695.1,328.9 696.1,329.3 697.1,328.3 698.1,328.4 699.1,329.5 700.1,327.6 701.1,328.7 702.1,328.6 703.1,327.0 704.1,327.8 705.1,327.4 706.1,327.2 707.1,325.4 708.1,326.7 709.1,326.0 710.1,326.7 711.1,328.2 712.1,326.9 713.1,328.7 714.1,328.7 715.1,328.1 716.1,329.3 717.1,328.2 718.1,328.5 719.1,328.6 720.1,329.2 721.1,327.9 722.1,328.4 723.1,328.4 724.1,328.7 725.1,329.3 726.1,328.1 727.1,329.3 728.1,328.4 729.1,328.6 730.1,328.1 731.1,328.6 732.1,329.6 733.1,328.9 734.1,329.2 735.1,328.2 736.1,328.2 737.1,328.1 738.1,328.8 739.1,328.9 740.1,329.2 741.1,327.6 742.1,329.1 743.1,329.4 744.1,328.7 745.1,327.6 746.1,328.2 747.1,327.5 748.1,327.9 749.1,329.5 750.1,328.8 751.1,328.9 752.1,329.2 753.1,329.5 754.1,328.8 755.1,328.9 756.1,328.9 757.1,329.0 758.1,328.8 759.1,329.0 760.1,328.0 761.1,329.0 762.1,328.5 763.1,329.2 764.1,327.7 765.1,327.9 766.1,327.6 767.1,329.2 768.1,329.5 769.1,328.9 770.1,328.3 771.1,329.3 772.1,329.2 773.1,328.7 774.1,328.1 775.1,328.2 776.1,328.4 777.1,328.2 778.1,328.4 779.1,328.9 780.1,329.6 781.1,327.6 782.1,328.7 783.1,327.6 784.1,327.8 785.1,329.3 786.1,328.8 787.1,329.5 788.1,328.5 789.1,327.5 790.1,328.3 791.1,328.8 792.1,329.6 793.1,329.7 794.1,328.5 795.1,328.4 796.1,327.7 797.1,328.9 798.1,328.0 799.1,327.8 800.1,327.5 801.1,327.5 802.1,329.0 803.1,327.8 804.1,329.6 805.1,327.7 806.1,329.4 807.1,327.8 808.1,327.5 809.1,329.1 810.1,328.0 811.1,329.1 812.1,327.9 813.1,327.6 814.1,329.2 815.1,329.1 816.1,329.4 817.1,329.1 818.1,327.7 819.1,328.9 820.1,329.1 821.1,328.5 822.1,329.5 823.1,328.1 824.1,329.6 825.1,329.1 826.1,327.5 827.1,327.5 828.1,328.9 829.1,329.3 830.1,327.7 831.1,328.2 832.1,329.1 833.1,327.9 834.1,329.4 835.1,328.6 836.1,327.6 837.1,328.3 838.1,328.8 839.1,328.5 840.1,329.0 841.1,327.8 842.1,329.2 843.1,328.3 844.1,328.9 845.1,328.9 846.1,328.4 847.1,328.3 848.1,329.2 849.1,329.6 850.1,329.2 851.1,328.7 852.1,328.1 853.1,327.6 854.1,329.6 855.1,329.0 856.1,329.3 857.1,328.2 858.1,328.8 859.1,329.6 860.1,329.3 861.1,328.8 862.1,328.1 863.1,328.4 864.1,329.4 865.1,328.3 866.1,328.9 867.1,328.7 868.1,329.4 869.1,329.1 870.1,327.9 871.1,327.0 872.1,327.0 873.1,326.5 874.1,325.8 875.1,325.5 876.1,325.5 877.1,324.4 878.1,327.2 879.1,328.1 880.1,328.8 881.1,328.5 882.1,327.9 883.1,329.3 884.1,329.2 885.1,328.9 886.1,329.5 887.1,328.2 888.1,327.6 889.1,328.7 890.1,329.2 891.1,327.9 892.1,329.1 893.1,329.5 894.1,328.0 895.1,328.8 896.1,329.0 897.1,328.5 898.1,327.9 899.1,328.0 900.1,329.1 901.1,329.2 902.1,328.5 903.1,327.7 904.1,329.3 905.1,329.2 906.1,328.0 907.1,328.8 908.1,329.5 909.1,329.4 910.1,328.6 911.1,328.5 912.1,328.8 913.1,327.9 914.1,327.9 915.1,327.9 916.1,329.0 917.1,328.3 918.1,328.7 919.1,328.4 920.1,328.6 921.1,327.8 922.1,327.6 923.1,329.7 924.1,328.3 925.1,327.7 926.1,328.9 927.1,329.2 928.1,327.8 929.1,328.8 930.1,328.2 931.1,328.6 932.1,327.5 933.1,327.5 934.1,329.6 935.1,329.3 936.1,328.5 937.1,328.7 938.1,328.0 939.1,329.1 940.1,328.3 941.1,329.3 942.1,328.7 943.1,328.3 944.1,327.8 945.1,325.3 946.1,324.4 947.1,325.2 948.1,326.0 949.1,326.3 950.1,326.1 951.1,326.6 952.1,326.1 953.1,323.8 954.1,323.8 955.1,323.5 956.1,322.4 957.1,325.0 958.1,325.9 959.1,326.3 960.1,328.8 961.1,327.6 962.1,328.5 963.1,328.7 964.1,329.4 965.1,328.8 966.1,328.2 967.1,328.4 968.1,327.7 969.1,329.5 970.1,329.5 971.1,327.7 972.1,326.9 973.1,326.9 974.1,326.5 975.1,327.5 976.1,327.8 977.1,328.3 978.1,327.1 979.1,329.0 980.1,328.9 981.1,328.8 982.1,329.6 983.1,327.6 984.1,327.8 985.1,329.1 986.1,329.5 987.1,329.0 988.1,328.1 989.1,328.8 990.1,329.1 991.1,327.7 992.1,328.2 993.1,328.0 994.1,327.8 995.1,328.5 996.1,327.9 997.1,328.0 998.1,327.8 999.1,329.0 1000.1,327.5 1001.1,329.1 1002.1,327.9 1003.1,327.6 1004.1,329.5 1005.1,328.0 1006.1,329.5 1007.1,329.4 1008.1,329.4 1009.1,327.8 1010.1,328.5 1011.1,327.7 1012.1,329.5 1013.1,329.4 1014.1,328.9 1015.1,328.5 1016.1,328.2 1017.1,329.3 1018.1,328.5 1019.1,328.9 1020.1,327.8 1021.1,328.0 1022.1,327.6 1023.1,329.1 1024.1,328.7 1025.1,327.8 1026.1,329.4 1027.1,328.1 1028.1,328.4"/>
<polyline fill="none" stroke="#fbbd00" stroke-width="5.8" stroke-linejoin="round" points="114.1,487.9 115.1,488.2 116.1,489.4 117.1,488.3 118.1,487.9 119.1,488.7 120.1,488.3 121.1,489.6 122.1,487.8 123.1,489.7 124.1,487.7 125.1,489.5 126.1,489.0 127.1,488.0 128.1,488.6 129.1,488.2 130.1,488.1 131.1,488.0 132.1,488.3 133.1,489.7 134.1,489.7 135.1,489.6 136.1,487.7 137.1,488.1 138.1,489.5 139.1,487.6 140.1,489.0 141.1,488.1 142.1,489.5 143.1,487.4 144.1,489.0 145.1,487.9 146.1,487.3 147.1,486.7 148.1,487.8 149.1,485.0 150.1,479.9 151.1,473.8 152.1,468.4 153.1,465.4 154.1,471.2 155.1,477.3 156.1,482.9 157.1,487.0 158.1,488.1 159.1,487.4 160.1,487.3 161.1,487.4 162.1,488.6 163.1,488.4 164.1,488.0 165.1,487.9 166.1,488.8 167.1,489.0 168.1,489.3 169.1,488.8 170.1,488.0 171.1,487.7 172.1,489.1 173.1,488.4 174.1,489.1 175.1,487.7 176.1,489.3 177.1,488.3 178.1,489.4 179.1,489.5 180.1,488.6 181.1,487.6 182.1,489.6 183.1,488.6 184.1,489.5 185.1,488.1 186.1,488.0 187.1,489.4 188.1,488.4 189.1,487.9 190.1,488.4 191.1,488.9 192.1,487.6 193.1,488.7 194.1,488.5 195.1,488.6 196.1,487.6 197.1,488.6 198.1,488.2 199.1,487.7 200.1,486.3 201.1,487.5 202.1,487.4 203.1,488.7 204.1,487.5 205.1,489.4 206.1,489.6 207.1,488.6 208.1,488.6 209.1,488.6 210.1,488.6 211.1,487.3 212.1,489.0 213.1,486.8 214.1,486.1 215.1,485.8 216.1,486.6 217.1,488.4 218.1,487.2 219.1,487.6 220.1,489.0 221.1,487.9 222.1,487.6 223.1,488.8 224.1,488.8 225.1,488.7 226.1,489.1 227.1,487.7 228.1,489.4 229.1,489.1 230.1,487.6 231.1,487.7 232.1,488.5 233.1,488.5 234.1,488.0 235.1,487.6 236.1,488.2 237.1,487.5 238.1,488.3 239.1,488.4 240.1,485.6 241.1,483.7 242.1,479.4 243.1,473.0 244.1,472.4 245.1,475.6 246.1,479.6 247.1,484.0 248.1,487.4 249.1,487.8 250.1,487.9 251.1,489.3 252.1,489.0 253.1,488.1 254.1,487.9 255.1,488.1 256.1,488.4 257.1,489.6 258.1,489.2 259.1,489.4 260.1,489.2 261.1,489.3 262.1,487.5 263.1,488.5 264.1,489.5 265.1,489.4 266.1,487.9 267.1,488.2 268.1,488.6 269.1,487.9 270.1,488.2 271.1,486.9 272.1,487.1 273.1,485.5 274.1,480.6 275.1,474.5 276.1,469.5 277.1,466.3 278.1,470.6 279.1,477.0 280.1,483.3 281.1,486.8 282.1,488.2 283.1,486.9 284.1,488.4 285.1,487.7 286.1,488.7 287.1,487.9 288.1,488.5 289.1,489.4 290.1,488.7 291.1,487.9 292.1,488.5 293.1,488.3 294.1,489.4 295.1,487.9 296.1,487.9 297.1,488.7 298.1,487.4 299.1,488.4 300.1,489.1 301.1,487.9 302.1,486.9 303.1,485.9 304.1,482.7 305.1,475.4 306.1,466.5 307.1,459.6 308.1,460.9 309.1,468.9 310.1,477.3 311.1,483.0 312.1,485.5 313.1,487.6 314.1,488.7 315.1,488.4 316.1,488.4 317.1,488.6 318.1,487.7 319.1,488.9 320.1,488.3 321.1,488.6 322.1,488.7 323.1,488.4 324.1,488.1 325.1,487.9 326.1,487.9 327.1,488.5 328.1,488.1 329.1,488.4 330.1,486.8 331.1,486.9 332.1,487.2 333.1,484.9 334.1,484.9 335.1,484.6 336.1,484.7 337.1,487.1 338.1,486.5 339.1,488.2 340.1,487.3 341.1,487.3 342.1,489.2 343.1,488.2 344.1,487.3 345.1,487.8 346.1,487.5 347.1,487.5 348.1,485.2 349.1,484.5 350.1,485.6 351.1,485.3 352.1,484.7 353.1,486.1 354.1,486.9 355.1,488.2 356.1,488.4 357.1,489.1 358.1,489.1 359.1,488.5 360.1,489.0 361.1,489.0 362.1,489.0 363.1,488.4 364.1,489.1 365.1,488.9 366.1,489.3 367.1,487.5 368.1,489.1 369.1,487.2 370.1,488.8 371.1,488.3 372.1,487.9 373.1,488.6 374.1,486.9 375.1,484.7 376.1,481.9 377.1,476.5 378.1,469.5 379.1,464.5 380.1,465.0 381.1,469.8 382.1,476.2 383.1,479.3 384.1,481.1 385.1,480.9 386.1,478.9 387.1,477.3 388.1,477.8 389.1,478.9 390.1,480.2 391.1,482.4 392.1,483.9 393.1,485.7 394.1,486.4 395.1,487.9 396.1,488.2 397.1,487.2 398.1,489.2 399.1,487.9 400.1,489.1 401.1,489.1 402.1,489.4 403.1,487.7 404.1,488.2 405.1,489.3 406.1,487.3 407.1,487.4 408.1,488.5 409.1,488.3 410.1,489.2 411.1,488.8 412.1,488.2 413.1,489.1 414.1,487.8 415.1,487.4 416.1,486.7 417.1,483.2 418.1,476.8 419.1,466.8 420.1,455.0 421.1,451.7 422.1,457.7 423.1,469.0 424.1,477.8 425.1,484.0 426.1,486.4 427.1,487.6 428.1,488.0 429.1,488.9 430.1,489.2 431.1,488.2 432.1,488.2 433.1,488.7 434.1,489.5 435.1,488.1 436.1,488.6 437.1,489.2 438.1,487.8 439.1,488.1 440.1,489.6 441.1,489.3 442.1,488.6 443.1,487.7 444.1,489.5 445.1,489.0 446.1,489.3 447.1,489.7 448.1,489.5 449.1,488.4 450.1,487.9 451.1,488.2 452.1,488.6 453.1,488.6 454.1,487.9 455.1,487.9 456.1,488.9 457.1,488.9 458.1,488.3 459.1,489.7 460.1,488.9 461.1,487.6 462.1,488.4 463.1,489.2 464.1,488.2 465.1,489.0 466.1,487.5 467.1,488.2 468.1,489.3 469.1,488.7 470.1,488.9 471.1,487.8 472.1,488.4 473.1,488.3 474.1,487.3 475.1,487.2 476.1,485.2 477.1,483.4 478.1,479.3 479.1,476.7 480.1,476.4 481.1,479.0 482.1,483.5 483.1,484.7 484.1,486.2 485.1,487.2 486.1,488.3 487.1,489.1 488.1,488.7 489.1,489.2 490.1,487.6 491.1,487.5 492.1,489.2 493.1,488.2 494.1,489.1 495.1,488.3 496.1,487.9 497.1,488.1 498.1,487.8 499.1,489.5 500.1,488.8 501.1,488.3 502.1,488.5 503.1,488.4 504.1,487.7 505.1,489.5 506.1,488.8 507.1,489.7 508.1,488.5 509.1,488.9 510.1,488.1 511.1,487.7 512.1,489.6 513.1,489.4 514.1,488.3 515.1,489.5 516.1,489.4 517.1,488.2 518.1,488.9 519.1,489.7 520.1,488.7 521.1,489.7 522.1,488.1 523.1,488.4 524.1,489.1 525.1,488.1 526.1,488.2 527.1,489.5 528.1,488.6 529.1,489.3 530.1,488.1 531.1,487.9 532.1,488.3 533.1,488.0 534.1,489.7 535.1,488.2 536.1,488.8 537.1,487.8 538.1,488.7 539.1,488.4 540.1,488.4 541.1,487.6 542.1,487.8 543.1,489.3 544.1,488.2 545.1,488.0 546.1,487.8 547.1,488.0 548.1,487.8 549.1,487.2 550.1,488.4 551.1,487.2 552.1,485.8 553.1,485.3 554.1,481.4 555.1,478.7 556.1,477.4 557.1,474.9 558.1,476.9 559.1,480.6 560.1,483.5 561.1,484.5 562.1,486.5 563.1,488.1 564.1,487.8 565.1,489.3 566.1,487.7 567.1,489.4 568.1,488.5 569.1,487.9 570.1,488.4 571.1,487.7 572.1,489.0 573.1,488.0 574.1,489.5 575.1,488.8 576.1,488.3 577.1,488.0 578.1,488.8 579.1,488.0 580.1,489.4 581.1,487.8 582.1,488.6 583.1,488.7 584.1,488.1 585.1,489.1 586.1,488.3 587.1,488.9 588.1,488.6 589.1,488.0 590.1,488.2 591.1,487.4 592.1,487.5 593.1,488.6 594.1,486.7 595.1,485.8 596.1,481.7 597.1,478.8 598.1,474.8 599.1,473.7 600.1,475.2 601.1,478.6 602.1,482.8 603.1,485.3 604.1,486.5 605.1,488.4 606.1,487.7 607.1,488.1 608.1,489.3 609.1,489.1 610.1,489.3 611.1,489.3 612.1,487.7 613.1,488.1 614.1,487.6 615.1,489.0 616.1,489.0 617.1,488.3 618.1,488.4 619.1,489.0 620.1,489.1 621.1,488.1 622.1,489.4 623.1,488.3 624.1,488.9 625.1,488.0 626.1,487.8 627.1,489.6 628.1,489.2 629.1,489.1 630.1,487.7 631.1,487.7 632.1,487.9 633.1,488.0 634.1,488.2 635.1,488.4 636.1,487.7 637.1,488.3 638.1,489.0 639.1,488.0 640.1,489.4 641.1,488.8 642.1,489.2 643.1,488.1 644.1,488.5 645.1,489.1 646.1,488.4 647.1,487.6 648.1,489.4 649.1,489.3 650.1,488.2 651.1,487.7 652.1,489.5 653.1,488.9 654.1,487.7 655.1,488.1 656.1,487.8 657.1,489.3 658.1,488.1 659.1,489.6 660.1,489.2 661.1,487.8 662.1,489.1 663.1,488.5 664.1,489.2 665.1,489.4 666.1,488.2 667.1,487.8 668.1,489.7 669.1,488.5 670.1,489.6 671.1,489.1 672.1,489.2 673.1,489.4 674.1,489.0 675.1,488.6 676.1,487.7 677.1,489.1 678.1,488.5 679.1,488.7 680.1,489.6 681.1,487.9 682.1,489.3 683.1,487.7 684.1,489.1 685.1,489.4 686.1,488.2 687.1,488.8 688.1,489.7 689.1,489.0 690.1,488.8 691.1,488.1 692.1,487.7 693.1,488.3 694.1,488.5 695.1,488.0 696.1,488.2 697.1,487.8 698.1,489.0 699.1,488.9 700.1,487.9 701.1,487.6 702.1,487.8 703.1,487.0 704.1,487.2 705.1,485.0 706.1,484.3 707.1,485.7 708.1,484.7 709.1,486.6 710.1,486.9 711.1,488.6 712.1,488.4 713.1,489.0 714.1,487.8 715.1,489.0 716.1,488.8 717.1,488.5 718.1,489.2 719.1,489.4 720.1,487.8 721.1,488.2 722.1,488.4 723.1,488.0 724.1,487.7 725.1,488.2 726.1,488.0 727.1,489.1 728.1,488.6 729.1,487.8 730.1,488.3 731.1,488.6 732.1,488.4 733.1,488.0 734.1,487.7 735.1,487.6 736.1,489.8 737.1,489.2 738.1,487.8 739.1,489.2 740.1,489.7 741.1,488.8 742.1,487.8 743.1,488.7 744.1,488.5 745.1,488.0 746.1,488.8 747.1,487.6 748.1,489.6 749.1,489.0 750.1,489.0 751.1,489.7 752.1,489.0 753.1,488.1 754.1,488.1 755.1,487.9 756.1,487.7 757.1,489.3 758.1,489.4 759.1,488.2 760.1,488.0 761.1,489.0 762.1,489.5 763.1,489.6 764.1,488.0 765.1,489.3 766.1,489.4 767.1,489.2 768.1,488.3 769.1,488.0 770.1,489.4 771.1,488.3 772.1,488.4 773.1,488.8 774.1,488.4 775.1,489.4 776.1,488.1 777.1,487.7 778.1,488.8 779.1,489.0 780.1,489.4 781.1,489.2 782.1,489.6 783.1,489.7 784.1,488.7 785.1,488.7 786.1,487.9 787.1,488.3 788.1,488.9 789.1,487.8 790.1,489.1 791.1,488.0 792.1,488.6 793.1,489.7 794.1,487.8 795.1,487.7 796.1,488.6 797.1,488.0 798.1,489.2 799.1,487.6 800.1,489.4 801.1,489.5 802.1,489.3 803.1,488.5 804.1,488.2 805.1,489.1 806.1,488.7 807.1,488.5 808.1,488.3 809.1,488.6 810.1,489.1 811.1,489.4 812.1,489.6 813.1,488.0 814.1,488.3 815.1,488.6 816.1,488.8 817.1,488.4 818.1,488.0 819.1,487.8 820.1,488.3 821.1,488.6 822.1,489.7 823.1,489.6 824.1,489.5 825.1,489.7 826.1,489.7 827.1,489.0 828.1,489.4 829.1,487.7 830.1,489.1 831.1,488.9 832.1,488.2 833.1,488.9 834.1,489.7 835.1,488.7 836.1,489.0 837.1,488.3 838.1,488.3 839.1,489.5 840.1,487.7 841.1,488.0 842.1,489.1 843.1,488.6 844.1,487.8 845.1,489.0 846.1,488.4 847.1,488.9 848.1,488.5 849.1,488.8 850.1,488.8 851.1,488.5 852.1,487.8 853.1,488.0 854.1,489.5 855.1,488.8 856.1,487.8 857.1,489.5 858.1,488.1 859.1,487.8 860.1,488.7 861.1,488.1 862.1,488.6 863.1,488.8 864.1,488.0 865.1,488.8 866.1,487.8 867.1,488.6 868.1,488.8 869.1,487.6 870.1,488.2 871.1,487.1 872.1,487.2 873.1,487.1 874.1,485.1 875.1,484.4 876.1,484.4 877.1,483.9 878.1,487.1 879.1,487.7 880.1,487.1 881.1,489.0 882.1,488.3 883.1,487.8 884.1,489.6 885.1,488.8 886.1,489.2 887.1,487.8 888.1,489.3 889.1,487.7 890.1,488.1 891.1,488.4 892.1,487.6 893.1,488.9 894.1,488.0 895.1,488.2 896.1,489.1 897.1,488.5 898.1,489.5 899.1,488.9 900.1,489.5 901.1,488.8 902.1,489.6 903.1,489.5 904.1,487.9 905.1,489.2 906.1,488.3 907.1,489.3 908.1,489.1 909.1,489.4 910.1,487.8 911.1,488.4 912.1,489.2 913.1,489.7 914.1,489.2 915.1,487.7 916.1,488.9 917.1,487.8 918.1,488.8 919.1,489.3 920.1,487.8 921.1,489.6 922.1,489.0 923.1,488.1 924.1,488.0 925.1,488.5 926.1,489.4 927.1,488.8 928.1,487.8 929.1,487.6 930.1,487.8 931.1,489.3 932.1,487.9 933.1,488.7 934.1,488.1 935.1,488.9 936.1,488.2 937.1,487.7 938.1,489.3 939.1,488.4 940.1,488.6 941.1,488.5 942.1,488.0 943.1,484.6 944.1,483.5 945.1,481.3 946.1,481.3 947.1,482.9 948.1,484.2 949.1,483.5 950.1,483.6 951.1,483.4 952.1,480.5 953.1,477.1 954.1,475.6 955.1,475.4 956.1,479.3 957.1,481.3 958.1,485.1 959.1,486.4 960.1,486.4 961.1,487.5 962.1,487.5 963.1,489.2 964.1,488.6 965.1,487.4 966.1,487.7 967.1,488.1 968.1,488.4 969.1,488.6 970.1,488.0 971.1,487.6 972.1,486.3 973.1,486.8 974.1,485.5 975.1,484.6 976.1,485.9 977.1,487.9 978.1,486.5 979.1,487.3 980.1,488.7 981.1,488.0 982.1,488.0 983.1,488.6 984.1,488.1 985.1,488.7 986.1,488.7 987.1,489.6 988.1,489.7 989.1,487.5 990.1,488.6 991.1,488.8 992.1,488.7 993.1,487.9 994.1,487.1 995.1,487.0 996.1,486.6 997.1,487.0 998.1,488.6 999.1,489.1 1000.1,489.5 1001.1,489.0 1002.1,488.2 1003.1,489.2 1004.1,489.2 1005.1,488.7 1006.1,489.0 1007.1,488.3 1008.1,488.8 1009.1,488.5 1010.1,487.7 1011.1,488.3 1012.1,488.3 1013.1,489.8 1014.1,488.6 1015.1,488.4 1016.1,488.1 1017.1,488.1 1018.1,488.4 1019.1,487.9 1020.1,487.6 1021.1,489.5 1022.1,488.6 1023.1,488.6 1024.1,488.8 1025.1,488.3 1026.1,488.0 1027.1,487.7 1028.1,488.3"/>
<polyline fill="none" stroke="#0c0c96" stroke-width="5.8" stroke-linejoin="round" points="114.1,626.6 115.1,627.5 116.1,627.1 117.1,627.9 118.1,626.6 119.1,627.9 120.1,627.2 121.1,626.1 122.1,626.3 123.1,627.2 124.1,628.1 125.1,626.7 126.1,627.6 127.1,626.8 128.1,627.8 129.1,626.0 130.1,626.9 131.1,627.8 132.1,626.5 133.1,626.4 134.1,625.9 135.1,626.2 136.1,626.4 137.1,627.4 138.1,626.3 139.1,626.7 140.1,626.2 141.1,627.1 142.1,627.7 143.1,627.2 144.1,626.1 145.1,627.3 146.1,627.7 147.1,626.7 148.1,625.1 149.1,625.4 150.1,622.9 151.1,617.6 152.1,613.3 153.1,612.5 154.1,616.3 155.1,621.4 156.1,624.2 157.1,626.5 158.1,625.7 159.1,626.2 160.1,627.3 161.1,627.1 162.1,626.6 163.1,627.2 164.1,626.5 165.1,625.9 166.1,626.7 167.1,625.9 168.1,627.2 169.1,626.6 170.1,626.9 171.1,627.1 172.1,626.4 173.1,626.8 174.1,625.9 175.1,627.9 176.1,627.1 177.1,628.0 178.1,625.9 179.1,627.1 180.1,627.3 181.1,626.3 182.1,625.4 183.1,624.7 184.1,623.3 185.1,623.2 186.1,621.1 187.1,623.6 188.1,624.2 189.1,625.8 190.1,626.6 191.1,626.8 192.1,627.2 193.1,627.1 194.1,626.5 195.1,627.5 196.1,626.4 197.1,627.4 198.1,627.5 199.1,627.6 200.1,626.6 201.1,627.6 202.1,628.0 203.1,626.9 204.1,626.5 205.1,627.0 206.1,627.9 207.1,626.2 208.1,625.9 209.1,626.9 210.1,627.3 211.1,627.6 212.1,626.7 213.1,628.1 214.1,626.4 215.1,627.5 216.1,626.1 217.1,625.9 218.1,626.2 219.1,626.0 220.1,627.0 221.1,627.1 222.1,626.3 223.1,627.9 224.1,626.7 225.1,626.2 226.1,626.2 227.1,627.5 228.1,627.9 229.1,626.2 230.1,625.9 231.1,627.5 232.1,626.3 233.1,627.9 234.1,626.8 235.1,627.1 236.1,626.4 237.1,627.3 238.1,626.4 239.1,625.8 240.1,626.3 241.1,622.5 242.1,620.2 243.1,614.1 244.1,612.4 245.1,613.2 246.1,618.6 247.1,621.1 248.1,624.9 249.1,625.8 250.1,627.3 251.1,627.6 252.1,627.0 253.1,626.1 254.1,626.2 255.1,626.3 256.1,626.7 257.1,626.2 258.1,626.2 259.1,627.4 260.1,627.1 261.1,626.4 262.1,627.9 263.1,626.2 264.1,626.9 265.1,626.0 266.1,627.5 267.1,627.5 268.1,626.1 269.1,627.1 270.1,627.1 271.1,625.7 272.1,625.4 273.1,624.5 274.1,622.4 275.1,615.0 276.1,608.2 277.1,601.8 278.1,602.3 279.1,609.5 280.1,617.9 281.1,621.7 282.1,625.7 283.1,625.5 284.1,626.8 285.1,627.1 286.1,625.6 287.1,627.1 288.1,627.3 289.1,625.2 290.1,623.5 291.1,621.7 292.1,621.5 293.1,618.5 294.1,621.6 295.1,621.9 296.1,624.4 297.1,622.9 298.1,621.5 299.1,620.6 300.1,618.4 301.1,620.1 302.1,623.1 303.1,623.4 304.1,622.2 305.1,617.7 306.1,608.7 307.1,603.8 308.1,605.8 309.1,611.8 310.1,617.2 311.1,622.9 312.1,624.5 313.1,625.8 314.1,625.5 315.1,625.4 316.1,627.7 317.1,626.3 318.1,627.5 319.1,625.9 320.1,626.8 321.1,626.0 322.1,626.7 323.1,626.2 324.1,627.3 325.1,626.1 326.1,627.4 327.1,626.9 328.1,626.1 329.1,626.6 330.1,626.9 331.1,627.8 332.1,626.6 333.1,626.3 334.1,627.9 335.1,627.8 336.1,627.4 337.1,626.4 338.1,626.2 339.1,626.4 340.1,626.0 341.1,625.9 342.1,626.9 343.1,626.7 344.1,627.0 345.1,626.6 346.1,625.8 347.1,627.3 348.1,627.2 349.1,627.0 350.1,627.0 351.1,627.3 352.1,627.9 353.1,627.7 354.1,627.3 355.1,626.6 356.1,626.4 357.1,626.6 358.1,627.8 359.1,626.5 360.1,626.4 361.1,626.4 362.1,625.8 363.1,627.5 364.1,625.2 365.1,626.3 366.1,626.3 367.1,623.5 368.1,621.7 369.1,617.4 370.1,613.1 371.1,610.6 372.1,611.1 373.1,615.6 374.1,617.7 375.1,617.5 376.1,611.2 377.1,605.2 378.1,597.0 379.1,594.9 380.1,599.0 381.1,606.7 382.1,616.1 383.1,619.6 384.1,624.3 385.1,625.9 386.1,625.7 387.1,626.1 388.1,627.1 389.1,625.4 390.1,625.9 391.1,625.4 392.1,623.2 393.1,622.4 394.1,621.1 395.1,622.2 396.1,623.8 397.1,624.8 398.1,623.8 399.1,622.9 400.1,619.4 401.1,614.1 402.1,610.6 403.1,608.2 404.1,612.0 405.1,615.6 406.1,620.6 407.1,623.3 408.1,624.9 409.1,625.1 410.1,625.1 411.1,626.9 412.1,626.0 413.1,625.9 414.1,625.8 415.1,626.0 416.1,623.8 417.1,620.8 418.1,614.6 419.1,599.4 420.1,582.6 421.1,575.7 422.1,586.3 423.1,603.7 424.1,615.0 425.1,622.2 426.1,625.5 427.1,626.3 428.1,625.1 429.1,625.4 430.1,625.8 431.1,625.6 432.1,626.2 433.1,627.3 434.1,626.7 435.1,626.6 436.1,625.8 437.1,626.5 438.1,627.9 439.1,627.2 440.1,626.7 441.1,626.7 442.1,627.5 443.1,627.4 444.1,626.0 445.1,627.2 446.1,626.5 447.1,626.8 448.1,626.2 449.1,626.5 450.1,626.4 451.1,626.4 452.1,625.5 453.1,625.8 454.1,626.2 455.1,624.3 456.1,622.8 457.1,621.4 458.1,617.2 459.1,614.9 460.1,614.7 461.1,618.4 462.1,620.0 463.1,623.9 464.1,626.0 465.1,625.4 466.1,626.3 467.1,627.2 468.1,626.9 469.1,626.4 470.1,625.7 471.1,626.6 472.1,626.4 473.1,627.0 474.1,625.9 475.1,625.5 476.1,624.8 477.1,623.4 478.1,620.2 479.1,618.9 480.1,619.5 481.1,621.9 482.1,622.4 483.1,625.9 484.1,626.4 485.1,626.2 486.1,627.0 487.1,626.4 488.1,625.9 489.1,627.4 490.1,626.6 491.1,626.9 492.1,626.9 493.1,627.8 494.1,627.5 495.1,625.9 496.1,627.1 497.1,626.9 498.1,626.9 499.1,627.7 500.1,626.8 501.1,626.9 502.1,627.8 503.1,626.8 504.1,627.0 505.1,627.0 506.1,627.7 507.1,627.3 508.1,627.5 509.1,626.8 510.1,626.0 511.1,627.4 512.1,627.1 513.1,627.6 514.1,627.6 515.1,626.1 516.1,626.4 517.1,626.0 518.1,627.7 519.1,626.1 520.1,626.1 521.1,627.5 522.1,627.1 523.1,626.0 524.1,627.4 525.1,627.4 526.1,626.9 527.1,626.0 528.1,627.4 529.1,626.8 530.1,627.2 531.1,628.1 532.1,627.7 533.1,627.8 534.1,626.2 535.1,626.6 536.1,627.0 537.1,625.9 538.1,628.0 539.1,626.4 540.1,626.4 541.1,626.5 542.1,626.4 543.1,627.7 544.1,627.0 545.1,626.9 546.1,626.6 547.1,625.8 548.1,626.3 549.1,627.4 550.1,627.2 551.1,626.9 552.1,624.9 553.1,623.1 554.1,619.9 555.1,617.1 556.1,613.1 557.1,611.9 558.1,614.0 559.1,618.0 560.1,621.3 561.1,624.8 562.1,624.9 563.1,627.2 564.1,626.6 565.1,625.7 566.1,626.3 567.1,626.8 568.1,626.6 569.1,627.0 570.1,626.5 571.1,626.4 572.1,627.5 573.1,626.4 574.1,627.4 575.1,627.6 576.1,627.1 577.1,626.8 578.1,627.9 579.1,626.8 580.1,627.8 581.1,625.9 582.1,626.8 583.1,627.2 584.1,625.9 585.1,627.7 586.1,626.0 587.1,627.1 588.1,626.2 589.1,627.8 590.1,627.0 591.1,627.5 592.1,626.7 593.1,627.0 594.1,626.7 595.1,625.2 596.1,623.6 597.1,623.0 598.1,619.0 599.1,619.1 600.1,617.7 601.1,619.4 602.1,621.8 603.1,625.2 604.1,626.8 605.1,626.2 606.1,627.0 607.1,626.2 608.1,627.7 609.1,627.3 610.1,626.1 611.1,625.9 612.1,627.3 613.1,625.9 614.1,627.7 615.1,626.5 616.1,626.4 617.1,627.1 618.1,626.6 619.1,627.1 620.1,626.2 621.1,627.9 622.1,626.6 623.1,627.7 624.1,626.2 625.1,627.6 626.1,628.0 627.1,626.7 628.1,626.0 629.1,626.7 630.1,627.3 631.1,626.4 632.1,627.1 633.1,626.1 634.1,626.9 635.1,627.5 636.1,626.8 637.1,627.4 638.1,626.1 639.1,627.7 640.1,626.2 641.1,627.9 642.1,628.1 643.1,628.0 644.1,627.1 645.1,626.5 646.1,626.7 647.1,627.5 648.1,627.0 649.1,627.9 650.1,626.1 651.1,627.0 652.1,627.8 653.1,627.2 654.1,627.1 655.1,626.1 656.1,626.2 657.1,626.5 658.1,627.9 659.1,627.8 660.1,626.4 661.1,627.9 662.1,626.0 663.1,627.2 664.1,628.0 665.1,626.7 666.1,628.0 667.1,627.3 668.1,626.0 669.1,626.6 670.1,626.9 671.1,626.4 672.1,627.5 673.1,626.3 674.1,627.6 675.1,626.5 676.1,626.0 677.1,627.1 678.1,626.1 679.1,627.1 680.1,627.6 681.1,627.2 682.1,626.9 683.1,626.0 684.1,627.0 685.1,626.1 686.1,627.3 687.1,626.2 688.1,627.2 689.1,626.7 690.1,626.7 691.1,627.3 692.1,626.2 693.1,626.2 694.1,627.9 695.1,626.6 696.1,627.7 697.1,627.8 698.1,626.9 699.1,626.1 700.1,625.9 701.1,627.5 702.1,625.5 703.1,625.8 704.1,625.0 705.1,623.0 706.1,623.0 707.1,622.4 708.1,624.1 709.1,625.1 710.1,625.6 711.1,625.8 712.1,626.5 713.1,626.2 714.1,626.1 715.1,626.3 716.1,627.8 717.1,627.0 718.1,627.8 719.1,625.9 720.1,627.9 721.1,626.9 722.1,627.6 723.1,627.1 724.1,627.4 725.1,626.4 726.1,627.5 727.1,626.2 728.1,626.5 729.1,626.0 730.1,626.8 731.1,627.0 732.1,626.5 733.1,627.8 734.1,626.1 735.1,627.2 736.1,626.4 737.1,627.2 738.1,627.6 739.1,627.5 740.1,626.0 741.1,626.4 742.1,627.2 743.1,628.1 744.1,626.0 745.1,627.3 746.1,627.4 747.1,627.7 748.1,626.6 749.1,627.7 750.1,626.9 751.1,627.9 752.1,625.9 753.1,628.0 754.1,626.8 755.1,626.8 756.1,626.1 757.1,626.4 758.1,627.5 759.1,627.4 760.1,626.2 761.1,626.6 762.1,626.2 763.1,626.3 764.1,626.4 765.1,626.6 766.1,628.0 767.1,628.1 768.1,627.6 769.1,626.9 770.1,626.9 771.1,627.6 772.1,627.8 773.1,627.5 774.1,627.2 775.1,626.2 776.1,626.9 777.1,627.2 778.1,626.6 779.1,624.4 780.1,625.1 781.1,623.8 782.1,623.3 783.1,625.5 784.1,625.5 785.1,626.4 786.1,625.5 787.1,627.3 788.1,627.8 789.1,627.8 790.1,627.4 791.1,627.7 792.1,627.6 793.1,627.1 794.1,626.8 795.1,627.7 796.1,627.6 797.1,627.8 798.1,626.5 799.1,628.0 800.1,627.0 801.1,627.9 802.1,626.1 803.1,627.9 804.1,627.5 805.1,626.3 806.1,627.5 807.1,625.9 808.1,625.4 809.1,625.4 810.1,624.2 811.1,624.2 812.1,624.9 813.1,624.7 814.1,625.4 815.1,625.4 816.1,626.8 817.1,627.2 818.1,627.2 819.1,627.8 820.1,627.6 821.1,626.7 822.1,626.0 823.1,627.3 824.1,627.7 825.1,626.6 826.1,627.2 827.1,627.7 828.1,627.6 829.1,625.9 830.1,627.0 831.1,625.9 832.1,626.1 833.1,627.7 834.1,626.8 835.1,627.2 836.1,626.9 837.1,626.6 838.1,626.4 839.1,626.7 840.1,627.7 841.1,627.2 842.1,626.5 843.1,626.1 844.1,626.5 845.1,627.4 846.1,626.9 847.1,627.3 848.1,627.7 849.1,626.1 850.1,627.4 851.1,626.0 852.1,627.7 853.1,626.3 854.1,626.5 855.1,628.0 856.1,626.7 857.1,626.4 858.1,627.8 859.1,627.2 860.1,627.8 861.1,626.7 862.1,626.9 863.1,627.9 864.1,626.9 865.1,628.0 866.1,626.2 867.1,627.6 868.1,626.1 869.1,626.8 870.1,625.5 871.1,625.6 872.1,626.6 873.1,624.4 874.1,623.8 875.1,621.4 876.1,621.3 877.1,621.3 878.1,622.8 879.1,623.6 880.1,622.6 881.1,622.4 882.1,624.3 883.1,625.3 884.1,625.8 885.1,625.2 886.1,626.8 887.1,626.6 888.1,627.8 889.1,626.6 890.1,627.2 891.1,627.2 892.1,626.6 893.1,627.0 894.1,627.3 895.1,627.8 896.1,626.9 897.1,626.7 898.1,628.0 899.1,626.0 900.1,627.7 901.1,627.4 902.1,627.1 903.1,626.9 904.1,627.5 905.1,627.8 906.1,627.5 907.1,627.5 908.1,625.9 909.1,626.6 910.1,626.2 911.1,628.0 912.1,627.8 913.1,626.2 914.1,627.2 915.1,627.1 916.1,626.0 917.1,626.7 918.1,627.5 919.1,627.3 920.1,626.5 921.1,627.5 922.1,626.5 923.1,627.1 924.1,626.8 925.1,628.0 926.1,627.3 927.1,627.6 928.1,627.3 929.1,626.7 930.1,628.0 931.1,627.4 932.1,627.4 933.1,626.4 934.1,626.2 935.1,627.1 936.1,627.6 937.1,627.5 938.1,626.5 939.1,626.0 940.1,626.8 941.1,627.5 942.1,625.6 943.1,626.1 944.1,623.7 945.1,622.8 946.1,621.7 947.1,622.7 948.1,623.7 949.1,625.1 950.1,623.9 951.1,619.7 952.1,616.9 953.1,616.1 954.1,614.8 955.1,617.6 956.1,621.0 957.1,622.9 958.1,624.8 959.1,625.9 960.1,626.2 961.1,627.6 962.1,626.2 963.1,626.1 964.1,627.7 965.1,626.7 966.1,627.5 967.1,627.1 968.1,627.4 969.1,626.3 970.1,625.7 971.1,626.6 972.1,625.2 973.1,624.4 974.1,623.7 975.1,623.5 976.1,623.0 977.1,624.2 978.1,626.4 979.1,626.3 980.1,626.1 981.1,627.0 982.1,626.3 983.1,627.4 984.1,625.8 985.1,627.6 986.1,627.0 987.1,626.5 988.1,627.8 989.1,626.3 990.1,626.3 991.1,625.9 992.1,626.9 993.1,627.2 994.1,626.8 995.1,625.8 996.1,625.9 997.1,623.1 998.1,622.2 999.1,621.7 1000.1,622.0 1001.1,621.9 1002.1,623.3 1003.1,624.9 1004.1,625.2 1005.1,627.1 1006.1,627.1 1007.1,626.4 1008.1,626.6 1009.1,627.5 1010.1,626.6 1011.1,626.2 1012.1,627.7 1013.1,627.0 1014.1,627.0 1015.1,627.3 1016.1,627.8 1017.1,626.1 1018.1,626.6 1019.1,626.0 1020.1,626.8 1021.1,627.0 1022.1,627.7 1023.1,627.3 1024.1,627.1 1025.1,626.8 1026.1,627.1 1027.1,626.5 1028.1,627.7"/>
<polyline fill="none" stroke="#0808ee" stroke-width="5.8" stroke-linejoin="round" points="114.1,752.1 115.1,752.2 116.1,750.7 117.1,751.9 118.1,752.0 119.1,751.5 120.1,752.3 121.1,752.3 122.1,752.0 123.1,752.2 124.1,751.8 125.1,752.3 126.1,750.6 127.1,751.9 128.1,751.9 129.1,751.7 130.1,750.9 131.1,750.5 132.1,751.7 133.1,752.1 134.1,750.9 135.1,750.8 136.1,750.8 137.1,750.5 138.1,751.8 139.1,752.4 140.1,752.0 141.1,751.0 142.1,751.7 143.1,750.3 144.1,751.9 145.1,750.7 146.1,749.8 147.1,751.0 148.1,749.5 149.1,748.5 150.1,744.7 151.1,739.3 152.1,731.0 153.1,724.9 154.1,724.1 155.1,733.3 156.1,740.1 157.1,746.0 158.1,749.6 159.1,750.0 160.1,750.4 161.1,751.1 162.1,750.5 163.1,751.8 164.1,750.6 165.1,752.0 166.1,752.0 167.1,751.4 168.1,750.3 169.1,752.0 170.1,750.3 171.1,751.4 172.1,751.2 173.1,750.4 174.1,751.7 175.1,751.9 176.1,751.6 177.1,751.2 178.1,751.4 179.1,751.6 180.1,750.7 181.1,752.1 182.1,752.2 183.1,751.3 184.1,750.8 185.1,748.1 186.1,748.6 187.1,746.8 188.1,748.7 189.1,749.2 190.1,750.7 191.1,751.6 192.1,751.8 193.1,751.3 194.1,751.1 195.1,750.7 196.1,751.2 197.1,751.0 198.1,750.8 199.1,752.0 200.1,751.5 201.1,751.3 202.1,750.8 203.1,751.9 204.1,750.8 205.1,751.0 206.1,751.6 207.1,751.9 208.1,752.5 209.1,752.0 210.1,752.5 211.1,752.4 212.1,752.0 213.1,752.0 214.1,750.5 215.1,750.8 216.1,750.4 217.1,752.3 218.1,751.9 219.1,751.7 220.1,750.9 221.1,751.1 222.1,750.7 223.1,751.7 224.1,752.5 225.1,751.0 226.1,750.4 227.1,750.7 228.1,751.1 229.1,752.3 230.1,752.1 231.1,751.3 232.1,750.5 233.1,750.4 234.1,750.5 235.1,751.8 236.1,751.1 237.1,752.1 238.1,751.8 239.1,751.1 240.1,749.2 241.1,747.1 242.1,740.4 243.1,733.9 244.1,730.7 245.1,732.5 246.1,738.0 247.1,744.0 248.1,747.3 249.1,750.9 250.1,751.2 251.1,751.9 252.1,752.1 253.1,751.0 254.1,751.7 255.1,751.0 256.1,751.9 257.1,752.0 258.1,750.4 259.1,750.2 260.1,750.6 261.1,751.4 262.1,751.0 263.1,750.1 264.1,751.9 265.1,751.8 266.1,751.0 267.1,750.0 268.1,751.8 269.1,750.9 270.1,749.8 271.1,750.1 272.1,750.2 273.1,749.3 274.1,744.7 275.1,737.4 276.1,725.2 277.1,715.0 278.1,715.3 279.1,723.2 280.1,734.2 281.1,743.7 282.1,747.1 283.1,749.0 284.1,750.2 285.1,750.8 286.1,751.0 287.1,751.2 288.1,750.6 289.1,749.5 290.1,750.3 291.1,747.8 292.1,747.5 293.1,746.9 294.1,748.1 295.1,749.4 296.1,749.1 297.1,750.0 298.1,749.5 299.1,748.1 300.1,747.0 301.1,749.0 302.1,749.0 303.1,747.7 304.1,746.1 305.1,742.6 306.1,732.2 307.1,723.0 308.1,720.1 309.1,725.7 310.1,735.1 311.1,743.6 312.1,746.7 313.1,748.8 314.1,751.5 315.1,751.4 316.1,749.9 317.1,750.0 318.1,750.5 319.1,752.1 320.1,750.6 321.1,751.6 322.1,752.2 323.1,751.6 324.1,752.3 325.1,750.8 326.1,750.6 327.1,750.3 328.1,752.0 329.1,750.5 330.1,752.4 331.1,751.9 332.1,750.7 333.1,752.1 334.1,750.7 335.1,751.4 336.1,750.5 337.1,752.0 338.1,752.3 339.1,752.3 340.1,750.3 341.1,752.2 342.1,751.5 343.1,752.1 344.1,751.4 345.1,751.7 346.1,751.6 347.1,752.1 348.1,750.5 349.1,750.4 350.1,751.5 351.1,750.9 352.1,751.2 353.1,750.3 354.1,751.9 355.1,750.3 356.1,752.1 357.1,752.0 358.1,751.2 359.1,750.4 360.1,751.6 361.1,750.5 362.1,751.0 363.1,750.2 364.1,751.9 365.1,750.7 366.1,749.6 367.1,747.7 368.1,746.8 369.1,743.9 370.1,740.9 371.1,738.0 372.1,740.0 373.1,742.5 374.1,745.4 375.1,743.9 376.1,741.6 377.1,736.0 378.1,727.8 379.1,720.7 380.1,721.6 381.1,728.1 382.1,737.3 383.1,743.6 384.1,747.4 385.1,749.2 386.1,750.0 387.1,750.8 388.1,751.0 389.1,751.7 390.1,751.4 391.1,751.5 392.1,751.6 393.1,750.9 394.1,749.9 395.1,747.5 396.1,748.5 397.1,749.4 398.1,749.4 399.1,751.1 400.1,749.9 401.1,751.4 402.1,749.6 403.1,749.0 404.1,746.9 405.1,746.8 406.1,747.7 407.1,748.9 408.1,749.3 409.1,750.5 410.1,751.8 411.1,751.0 412.1,751.6 413.1,751.0 414.1,750.9 415.1,750.8 416.1,749.1 417.1,744.5 418.1,735.2 419.1,718.1 420.1,696.4 421.1,688.0 422.1,702.1 423.1,723.3 424.1,737.9 425.1,746.6 426.1,749.5 427.1,750.7 428.1,751.0 429.1,750.6 430.1,749.9 431.1,751.6 432.1,750.6 433.1,751.3 434.1,750.8 435.1,751.2 436.1,752.2 437.1,750.5 438.1,751.3 439.1,751.6 440.1,751.4 441.1,752.3 442.1,751.1 443.1,752.2 444.1,751.7 445.1,752.3 446.1,750.4 447.1,750.7 448.1,750.8 449.1,752.2 450.1,750.2 451.1,750.7 452.1,751.6 453.1,752.1 454.1,750.0 455.1,749.9 456.1,749.0 457.1,746.8 458.1,744.3 459.1,742.3 460.1,741.2 461.1,743.2 462.1,745.4 463.1,749.0 464.1,749.4 465.1,750.2 466.1,752.0 467.1,751.5 468.1,751.4 469.1,751.6 470.1,751.4 471.1,751.6 472.1,750.7 473.1,750.1 474.1,749.8 475.1,749.0 476.1,748.4 477.1,745.9 478.1,743.4 479.1,742.6 480.1,743.9 481.1,745.2 482.1,746.7 483.1,749.7 484.1,749.6 485.1,750.0 486.1,750.7 487.1,751.0 488.1,751.7 489.1,751.2 490.1,751.9 491.1,750.5 492.1,752.3 493.1,751.1 494.1,752.2 495.1,750.4 496.1,752.2 497.1,750.8 498.1,752.2 499.1,752.1 500.1,751.8 501.1,751.0 502.1,750.4 503.1,750.8 504.1,752.4 505.1,750.7 506.1,751.8 507.1,751.7 508.1,751.8 509.1,750.8 510.1,750.7 511.1,750.6 512.1,752.5 513.1,751.2 514.1,751.8 515.1,751.6 516.1,750.9 517.1,750.5 518.1,750.4 519.1,752.2 520.1,750.7 521.1,752.5 522.1,751.2 523.1,752.0 524.1,750.7 525.1,752.1 526.1,750.9 527.1,751.2 528.1,751.5 529.1,750.6 530.1,750.9 531.1,752.1 532.1,751.0 533.1,751.2 534.1,752.0 535.1,750.8 536.1,750.8 537.1,750.8 538.1,751.2 539.1,751.1 540.1,751.7 541.1,751.3 542.1,752.2 543.1,750.4 544.1,751.7 545.1,752.0 546.1,750.7 547.1,750.2 548.1,751.0 549.1,750.2 550.1,750.7 551.1,750.9 552.1,748.5 553.1,746.3 554.1,743.3 555.1,737.5 556.1,732.7 557.1,731.4 558.1,733.3 559.1,738.3 560.1,743.9 561.1,747.7 562.1,750.6 563.1,750.6 564.1,749.9 565.1,750.4 566.1,751.7 567.1,751.3 568.1,752.1 569.1,752.3 570.1,752.1 571.1,750.5 572.1,752.3 573.1,751.4 574.1,750.8 575.1,750.7 576.1,752.2 577.1,750.8 578.1,750.5 579.1,750.9 580.1,752.3 581.1,751.3 582.1,751.9 583.1,750.5 584.1,751.3 585.1,751.0 586.1,750.7 587.1,751.7 588.1,751.0 589.1,750.5 590.1,752.4 591.1,751.2 592.1,750.5 593.1,749.9 594.1,751.0 595.1,749.8 596.1,747.1 597.1,745.6 598.1,743.2 599.1,740.8 600.1,740.4 601.1,743.3 602.1,746.4 603.1,748.9 604.1,749.3 605.1,751.4 606.1,752.0 607.1,751.7 608.1,752.1 609.1,751.0 610.1,752.2 611.1,750.7 612.1,750.8 613.1,751.6 614.1,752.3 615.1,750.5 616.1,750.8 617.1,750.4 618.1,751.3 619.1,750.7 620.1,750.8 621.1,752.0 622.1,751.6 623.1,752.4 624.1,751.3 625.1,751.9 626.1,750.4 627.1,752.5 628.1,750.9 629.1,751.4 630.1,751.5 631.1,752.5 632.1,751.5 633.1,752.6 634.1,751.8 635.1,750.9 636.1,752.2 637.1,750.8 638.1,752.6 639.1,751.4 640.1,750.9 641.1,752.5 642.1,751.1 643.1,751.3 644.1,751.1 645.1,751.9 646.1,750.4 647.1,751.2 648.1,750.7 649.1,752.2 650.1,750.4 651.1,751.7 652.1,751.0 653.1,751.4 654.1,751.6 655.1,752.0 656.1,750.7 657.1,750.9 658.1,750.7 659.1,752.5 660.1,750.7 661.1,750.7 662.1,751.5 663.1,751.7 664.1,752.3 665.1,750.5 666.1,750.9 667.1,750.8 668.1,751.7 669.1,751.4 670.1,751.3 671.1,752.3 672.1,751.8 673.1,752.3 674.1,752.5 675.1,751.0 676.1,752.5 677.1,751.3 678.1,750.5 679.1,752.4 680.1,750.6 681.1,750.4 682.1,751.0 683.1,751.0 684.1,752.5 685.1,752.3 686.1,751.3 687.1,751.5 688.1,752.2 689.1,752.1 690.1,751.8 691.1,751.5 692.1,750.6 693.1,750.9 694.1,751.8 695.1,751.6 696.1,752.1 697.1,752.3 698.1,752.4 699.1,750.7 700.1,750.4 701.1,752.0 702.1,750.9 703.1,749.3 704.1,749.3 705.1,747.0 706.1,746.0 707.1,746.4 708.1,747.8 709.1,749.5 710.1,749.2 711.1,751.4 712.1,751.4 713.1,751.2 714.1,751.7 715.1,752.1 716.1,750.3 717.1,751.4 718.1,751.8 719.1,751.9 720.1,751.8 721.1,750.8 722.1,752.5 723.1,752.1 724.1,750.9 725.1,751.3 726.1,752.5 727.1,750.8 728.1,751.3 729.1,752.5 730.1,752.4 731.1,750.9 732.1,752.0 733.1,751.2 734.1,751.8 735.1,752.1 736.1,750.7 737.1,750.9 738.1,750.9 739.1,751.0 740.1,750.5 741.1,750.7 742.1,751.3 743.1,751.3 744.1,750.6 745.1,751.7 746.1,752.5 747.1,751.7 748.1,751.2 749.1,751.9 750.1,751.4 751.1,750.8 752.1,751.5 753.1,750.4 754.1,751.9 755.1,750.8 756.1,751.2 757.1,752.5 758.1,752.1 759.1,752.2 760.1,751.8 761.1,751.8 762.1,752.0 763.1,752.5 764.1,750.8 765.1,752.1 766.1,751.1 767.1,751.0 768.1,752.2 769.1,751.7 770.1,752.3 771.1,752.3 772.1,751.7 773.1,750.8 774.1,750.4 775.1,751.6 776.1,752.0 777.1,751.0 778.1,750.6 779.1,750.4 780.1,750.8 781.1,751.9 782.1,750.4 783.1,750.9 784.1,751.0 785.1,752.0 786.1,752.6 787.1,750.4 788.1,750.7 789.1,752.5 790.1,752.5 791.1,750.7 792.1,751.1 793.1,751.5 794.1,751.1 795.1,751.3 796.1,751.5 797.1,751.0 798.1,750.5 799.1,750.6 800.1,750.8 801.1,750.6 802.1,751.8 803.1,751.9 804.1,751.0 805.1,752.1 806.1,752.0 807.1,751.2 808.1,751.5 809.1,750.8 810.1,752.4 811.1,751.6 812.1,750.5 813.1,750.7 814.1,751.9 815.1,751.2 816.1,752.0 817.1,750.9 818.1,752.2 819.1,752.2 820.1,750.6 821.1,751.7 822.1,750.8 823.1,752.0 824.1,752.2 825.1,752.1 826.1,750.9 827.1,750.6 828.1,751.9 829.1,751.6 830.1,750.7 831.1,750.8 832.1,751.7 833.1,750.6 834.1,751.8 835.1,750.9 836.1,751.0 837.1,751.3 838.1,751.6 839.1,752.0 840.1,750.5 841.1,752.0 842.1,750.9 843.1,751.0 844.1,751.8 845.1,751.9 846.1,751.7 847.1,752.4 848.1,750.8 849.1,751.1 850.1,751.8 851.1,751.0 852.1,750.7 853.1,750.9 854.1,752.1 855.1,752.2 856.1,751.9 857.1,752.5 858.1,752.1 859.1,751.0 860.1,751.1 861.1,751.9 862.1,750.5 863.1,751.7 864.1,750.5 865.1,750.4 866.1,751.4 867.1,750.6 868.1,752.2 869.1,752.0 870.1,750.8 871.1,749.5 872.1,748.2 873.1,747.5 874.1,746.1 875.1,745.2 876.1,746.8 877.1,747.9 878.1,749.9 879.1,749.5 880.1,750.0 881.1,751.0 882.1,751.3 883.1,750.8 884.1,751.8 885.1,750.8 886.1,751.0 887.1,751.4 888.1,751.9 889.1,752.0 890.1,751.2 891.1,751.3 892.1,752.4 893.1,752.4 894.1,751.7 895.1,750.6 896.1,751.4 897.1,751.8 898.1,751.0 899.1,750.5 900.1,752.5 901.1,752.4 902.1,750.7 903.1,751.4 904.1,751.7 905.1,751.0 906.1,750.5 907.1,752.0 908.1,752.1 909.1,751.3 910.1,750.6 911.1,751.2 912.1,750.6 913.1,752.5 914.1,750.5 915.1,751.0 916.1,752.1 917.1,750.7 918.1,750.6 919.1,750.5 920.1,750.7 921.1,751.5 922.1,752.2 923.1,750.7 924.1,750.8 925.1,752.0 926.1,751.3 927.1,751.1 928.1,750.6 929.1,750.9 930.1,752.5 931.1,750.6 932.1,750.9 933.1,752.0 934.1,752.3 935.1,752.3 936.1,751.3 937.1,752.4 938.1,751.6 939.1,750.9 940.1,751.2 941.1,751.6 942.1,751.4 943.1,749.3 944.1,748.4 945.1,748.8 946.1,746.4 947.1,748.6 948.1,748.6 949.1,749.1 950.1,748.8 951.1,748.0 952.1,746.9 953.1,742.4 954.1,742.3 955.1,741.6 956.1,743.5 957.1,747.4 958.1,748.6 959.1,749.5 960.1,750.6 961.1,751.8 962.1,752.0 963.1,751.4 964.1,750.2 965.1,751.9 966.1,751.5 967.1,752.1 968.1,752.2 969.1,750.8 970.1,751.7 971.1,751.0 972.1,748.9 973.1,747.8 974.1,746.6 975.1,746.1 976.1,746.8 977.1,747.5 978.1,749.0 979.1,751.4 980.1,750.8 981.1,751.5 982.1,752.1 983.1,751.9 984.1,750.8 985.1,752.3 986.1,752.0 987.1,752.4 988.1,751.8 989.1,751.9 990.1,752.0 991.1,750.6 992.1,751.3 993.1,750.1 994.1,750.2 995.1,747.3 996.1,747.0 997.1,746.1 998.1,747.8 999.1,748.1 1000.1,750.4 1001.1,751.3 1002.1,751.9 1003.1,750.4 1004.1,752.3 1005.1,751.9 1006.1,751.8 1007.1,751.8 1008.1,750.4 1009.1,752.3 1010.1,751.6 1011.1,751.4 1012.1,751.1 1013.1,752.1 1014.1,752.1 1015.1,752.3 1016.1,750.8 1017.1,751.1 1018.1,750.9 1019.1,750.6 1020.1,751.1 1021.1,750.4 1022.1,752.1 1023.1,750.9 1024.1,750.5 1025.1,750.5 1026.1,752.0 1027.1,750.8 1028.1,751.4"/>
<polyline fill="none" stroke="#1a8cc4" stroke-width="5.8" stroke-linejoin="round" points="114.1,857.3 115.1,858.1 116.1,858.5 117.1,857.1 118.1,857.8 119.1,858.3 120.1,857.4 121.1,858.4 122.1,858.0 123.1,857.1 124.1,858.3 125.1,857.6 126.1,856.6 127.1,857.7 128.1,858.2 129.1,857.5 130.1,857.4 131.1,857.3 132.1,858.3 133.1,857.8 134.1,856.8 135.1,857.1 136.1,857.1 137.1,858.4 138.1,857.8 139.1,856.6 140.1,858.3 141.1,856.3 142.1,857.5 143.1,857.1 144.1,857.7 145.1,857.0 146.1,856.2 147.1,857.0 148.1,857.3 149.1,856.2 150.1,852.8 151.1,847.8 152.1,842.6 153.1,837.7 154.1,837.1 155.1,844.2 156.1,850.7 157.1,853.7 158.1,855.6 159.1,857.1 160.1,857.9 161.1,856.4 162.1,856.7 163.1,856.9 164.1,857.8 165.1,856.6 166.1,857.4 167.1,857.4 168.1,857.8 169.1,856.6 170.1,858.4 171.1,858.5 172.1,857.6 173.1,858.1 174.1,856.7 175.1,858.3 176.1,857.5 177.1,858.0 178.1,858.2 179.1,857.1 180.1,858.3 181.1,856.7 182.1,856.2 183.1,857.1 184.1,857.5 185.1,856.9 186.1,856.5 187.1,855.6 188.1,857.1 189.1,856.9 190.1,856.3 191.1,857.6 192.1,858.1 193.1,857.3 194.1,857.7 195.1,856.9 196.1,857.0 197.1,857.3 198.1,857.5 199.1,857.4 200.1,856.6 201.1,856.4 202.1,857.1 203.1,858.0 204.1,858.0 205.1,856.9 206.1,856.9 207.1,857.5 208.1,856.8 209.1,857.7 210.1,858.4 211.1,856.8 212.1,857.7 213.1,858.0 214.1,858.0 215.1,857.9 216.1,857.9 217.1,857.0 218.1,858.2 219.1,858.4 220.1,856.5 221.1,858.4 222.1,857.3 223.1,856.5 224.1,856.5 225.1,858.1 226.1,857.8 227.1,856.6 228.1,857.3 229.1,857.7 230.1,858.5 231.1,857.0 232.1,857.9 233.1,856.8 234.1,856.6 235.1,856.5 236.1,856.9 237.1,857.3 238.1,856.4 239.1,855.7 240.1,854.6 241.1,851.5 242.1,846.5 243.1,840.3 244.1,836.6 245.1,837.8 246.1,844.6 247.1,850.5 248.1,855.4 249.1,856.0 250.1,857.7 251.1,856.9 252.1,856.4 253.1,857.3 254.1,856.4 255.1,856.5 256.1,856.3 257.1,857.7 258.1,858.3 259.1,857.1 260.1,857.0 261.1,857.1 262.1,857.0 263.1,857.7 264.1,857.0 265.1,856.4 266.1,858.0 267.1,857.3 268.1,856.0 269.1,857.8 270.1,857.4 271.1,856.4 272.1,856.6 273.1,856.1 274.1,852.1 275.1,846.4 276.1,837.4 277.1,830.2 278.1,829.5 279.1,836.6 280.1,845.9 281.1,850.6 282.1,854.5 283.1,856.9 284.1,857.2 285.1,856.9 286.1,857.2 287.1,856.4 288.1,857.5 289.1,856.0 290.1,854.6 291.1,853.0 292.1,852.4 293.1,854.8 294.1,855.8 295.1,855.1 296.1,856.3 297.1,856.9 298.1,856.9 299.1,856.6 300.1,857.7 301.1,856.4 302.1,856.5 303.1,856.5 304.1,853.6 305.1,848.3 306.1,839.7 307.1,830.9 308.1,827.7 309.1,833.3 310.1,841.4 311.1,849.3 312.1,853.7 313.1,855.5 314.1,857.4 315.1,856.9 316.1,856.5 317.1,856.7 318.1,857.9 319.1,856.5 320.1,857.7 321.1,856.2 322.1,856.6 323.1,856.4 324.1,858.0 325.1,856.6 326.1,856.8 327.1,856.4 328.1,856.9 329.1,857.9 330.1,857.9 331.1,858.3 332.1,858.4 333.1,857.5 334.1,858.3 335.1,856.5 336.1,858.4 337.1,857.3 338.1,856.8 339.1,858.0 340.1,858.2 341.1,857.2 342.1,856.5 343.1,858.2 344.1,858.0 345.1,857.6 346.1,858.5 347.1,856.4 348.1,856.4 349.1,856.6 350.1,856.4 351.1,857.9 352.1,857.7 353.1,856.5 354.1,856.6 355.1,856.7 356.1,857.6 357.1,857.7 358.1,858.4 359.1,857.0 360.1,858.3 361.1,857.1 362.1,857.0 363.1,856.6 364.1,856.5 365.1,857.9 366.1,857.5 367.1,856.0 368.1,853.2 369.1,851.1 370.1,849.0 371.1,848.7 372.1,850.4 373.1,850.7 374.1,853.0 375.1,853.2 376.1,849.3 377.1,845.1 378.1,839.2 379.1,832.9 380.1,831.5 381.1,836.9 382.1,843.1 383.1,848.7 384.1,852.9 385.1,856.2 386.1,857.0 387.1,857.5 388.1,856.9 389.1,856.1 390.1,856.2 391.1,856.6 392.1,857.1 393.1,855.2 394.1,856.1 395.1,855.2 396.1,854.2 397.1,853.6 398.1,856.3 399.1,856.1 400.1,856.9 401.1,856.4 402.1,855.9 403.1,854.4 404.1,855.2 405.1,855.7 406.1,856.6 407.1,856.6 408.1,856.4 409.1,856.6 410.1,856.4 411.1,857.8 412.1,857.4 413.1,857.3 414.1,857.1 415.1,857.1 416.1,855.5 417.1,851.8 418.1,845.3 419.1,830.1 420.1,814.0 421.1,805.8 422.1,817.6 423.1,833.9 424.1,846.3 425.1,854.0 426.1,854.5 427.1,857.1 428.1,857.1 429.1,856.0 430.1,857.5 431.1,857.2 432.1,858.0 433.1,857.3 434.1,857.0 435.1,858.2 436.1,856.3 437.1,857.9 438.1,856.4 439.1,856.8 440.1,856.5 441.1,858.2 442.1,857.2 443.1,857.8 444.1,856.8 445.1,857.9 446.1,857.7 447.1,856.5 448.1,857.3 449.1,857.8 450.1,856.7 451.1,857.6 452.1,856.8 453.1,856.9 454.1,857.9 455.1,857.5 456.1,856.8 457.1,854.2 458.1,853.0 459.1,852.3 460.1,852.2 461.1,852.7 462.1,855.2 463.1,855.5 464.1,857.6 465.1,856.9 466.1,856.3 467.1,857.8 468.1,856.5 469.1,857.6 470.1,856.2 471.1,858.3 472.1,857.2 473.1,857.5 474.1,855.7 475.1,855.9 476.1,853.6 477.1,850.5 478.1,848.6 479.1,844.7 480.1,845.9 481.1,847.6 482.1,852.5 483.1,855.2 484.1,854.9 485.1,856.6 486.1,857.0 487.1,857.7 488.1,857.8 489.1,857.0 490.1,858.3 491.1,856.7 492.1,856.6 493.1,858.1 494.1,856.6 495.1,856.7 496.1,857.4 497.1,857.1 498.1,856.7 499.1,858.4 500.1,857.4 501.1,858.1 502.1,856.9 503.1,858.4 504.1,856.9 505.1,858.4 506.1,857.7 507.1,858.5 508.1,858.1 509.1,857.8 510.1,857.5 511.1,858.2 512.1,857.3 513.1,856.6 514.1,858.4 515.1,858.1 516.1,857.9 517.1,858.0 518.1,856.9 519.1,857.4 520.1,858.2 521.1,858.5 522.1,858.4 523.1,856.7 524.1,857.9 525.1,857.6 526.1,857.3 527.1,856.7 528.1,856.7 529.1,857.4 530.1,857.4 531.1,856.9 532.1,857.2 533.1,857.6 534.1,858.0 535.1,857.6 536.1,856.7 537.1,858.3 538.1,857.1 539.1,858.4 540.1,858.5 541.1,856.6 542.1,857.6 543.1,858.4 544.1,857.1 545.1,857.4 546.1,856.9 547.1,856.2 548.1,856.5 549.1,856.3 550.1,856.4 551.1,856.8 552.1,855.8 553.1,854.8 554.1,851.0 555.1,845.9 556.1,843.0 557.1,840.8 558.1,842.8 559.1,847.9 560.1,851.7 561.1,854.0 562.1,856.1 563.1,856.2 564.1,858.0 565.1,856.5 566.1,858.2 567.1,856.3 568.1,856.2 569.1,857.4 570.1,856.7 571.1,857.4 572.1,856.5 573.1,858.1 574.1,857.7 575.1,857.8 576.1,858.3 577.1,858.5 578.1,857.8 579.1,857.9 580.1,856.3 581.1,856.4 582.1,857.2 583.1,858.4 584.1,857.0 585.1,857.5 586.1,856.3 587.1,857.1 588.1,858.2 589.1,857.5 590.1,858.0 591.1,856.1 592.1,856.4 593.1,856.2 594.1,857.2 595.1,854.5 596.1,854.2 597.1,849.5 598.1,847.2 599.1,843.8 600.1,843.7 601.1,848.1 602.1,850.6 603.1,854.2 604.1,854.7 605.1,857.3 606.1,858.0 607.1,856.3 608.1,857.8 609.1,856.8 610.1,856.5 611.1,857.0 612.1,857.7 613.1,858.4 614.1,858.5 615.1,858.5 616.1,857.7 617.1,857.8 618.1,856.7 619.1,857.9 620.1,857.6 621.1,857.1 622.1,858.3 623.1,856.9 624.1,856.7 625.1,856.7 626.1,856.7 627.1,857.7 628.1,858.1 629.1,856.7 630.1,857.5 631.1,857.6 632.1,857.6 633.1,857.3 634.1,857.6 635.1,856.4 636.1,856.5 637.1,857.3 638.1,856.9 639.1,858.1 640.1,856.9 641.1,858.2 642.1,856.9 643.1,856.6 644.1,857.4 645.1,857.2 646.1,857.1 647.1,858.1 648.1,856.9 649.1,857.9 650.1,858.2 651.1,857.4 652.1,857.5 653.1,858.4 654.1,857.7 655.1,856.8 656.1,856.5 657.1,856.6 658.1,857.1 659.1,856.6 660.1,857.8 661.1,857.3 662.1,857.1 663.1,857.5 664.1,858.5 665.1,856.9 666.1,856.7 667.1,857.1 668.1,857.1 669.1,858.4 670.1,857.9 671.1,857.3 672.1,856.8 673.1,856.5 674.1,856.7 675.1,858.3 676.1,857.8 677.1,856.7 678.1,857.8 679.1,856.5 680.1,857.5 681.1,857.1 682.1,856.6 683.1,858.0 684.1,858.0 685.1,857.5 686.1,856.7 687.1,857.8 688.1,857.3 689.1,857.8 690.1,856.6 691.1,858.3 692.1,856.4 693.1,856.8 694.1,857.2 695.1,856.8 696.1,856.5 697.1,857.8 698.1,858.4 699.1,856.9 700.1,856.7 701.1,857.3 702.1,855.8 703.1,855.2 704.1,854.2 705.1,851.8 706.1,849.9 707.1,849.9 708.1,852.4 709.1,855.2 710.1,856.6 711.1,855.7 712.1,857.0 713.1,857.2 714.1,856.6 715.1,857.7 716.1,857.4 717.1,858.1 718.1,857.0 719.1,858.4 720.1,858.1 721.1,857.4 722.1,856.7 723.1,857.4 724.1,856.6 725.1,857.9 726.1,857.9 727.1,857.6 728.1,858.5 729.1,856.5 730.1,858.0 731.1,858.1 732.1,856.6 733.1,857.1 734.1,856.5 735.1,857.7 736.1,858.0 737.1,857.2 738.1,857.9 739.1,857.2 740.1,858.0 741.1,857.0 742.1,858.5 743.1,857.4 744.1,856.4 745.1,856.6 746.1,858.0 747.1,858.3 748.1,857.8 749.1,856.7 750.1,858.3 751.1,858.0 752.1,856.6 753.1,857.2 754.1,857.9 755.1,856.4 756.1,856.5 757.1,857.2 758.1,858.3 759.1,858.6 760.1,857.1 761.1,858.4 762.1,858.1 763.1,858.3 764.1,857.7 765.1,858.5 766.1,857.8 767.1,858.5 768.1,857.6 769.1,856.8 770.1,857.5 771.1,857.5 772.1,857.1 773.1,857.2 774.1,857.5 775.1,857.7 776.1,856.9 777.1,857.0 778.1,857.5 779.1,857.5 780.1,857.3 781.1,857.9 782.1,856.8 783.1,857.6 784.1,857.0 785.1,858.1 786.1,857.9 787.1,858.1 788.1,857.5 789.1,856.9 790.1,858.4 791.1,857.5 792.1,857.2 793.1,857.0 794.1,857.3 795.1,858.0 796.1,858.2 797.1,857.5 798.1,858.0 799.1,856.9 800.1,857.4 801.1,857.2 802.1,857.1 803.1,857.2 804.1,858.1 805.1,858.0 806.1,856.9 807.1,856.9 808.1,858.1 809.1,857.8 810.1,857.9 811.1,857.8 812.1,857.9 813.1,857.0 814.1,856.5 815.1,857.2 816.1,856.5 817.1,858.5 818.1,857.6 819.1,857.9 820.1,858.5 821.1,858.2 822.1,856.9 823.1,857.1 824.1,856.6 825.1,858.1 826.1,858.0 827.1,857.5 828.1,857.2 829.1,857.0 830.1,857.5 831.1,858.0 832.1,858.4 833.1,858.3 834.1,858.3 835.1,857.4 836.1,857.3 837.1,857.1 838.1,858.5 839.1,856.8 840.1,856.7 841.1,857.0 842.1,858.4 843.1,858.3 844.1,857.1 845.1,858.3 846.1,858.3 847.1,857.3 848.1,856.8 849.1,858.1 850.1,857.2 851.1,856.6 852.1,858.4 853.1,857.3 854.1,857.2 855.1,857.7 856.1,856.9 857.1,856.4 858.1,857.2 859.1,857.2 860.1,856.4 861.1,857.2 862.1,858.0 863.1,857.0 864.1,857.8 865.1,857.7 866.1,856.7 867.1,856.3 868.1,857.6 869.1,857.3 870.1,856.2 871.1,855.1 872.1,855.0 873.1,853.1 874.1,849.6 875.1,849.7 876.1,850.7 877.1,852.2 878.1,853.6 879.1,855.6 880.1,857.1 881.1,857.3 882.1,857.3 883.1,856.5 884.1,856.7 885.1,857.0 886.1,857.2 887.1,857.1 888.1,858.3 889.1,856.6 890.1,858.5 891.1,856.9 892.1,858.2 893.1,856.9 894.1,857.7 895.1,857.2 896.1,856.5 897.1,858.1 898.1,858.2 899.1,857.0 900.1,858.1 901.1,857.4 902.1,858.6 903.1,856.5 904.1,857.2 905.1,856.9 906.1,857.7 907.1,858.1 908.1,858.2 909.1,857.6 910.1,857.2 911.1,858.1 912.1,856.6 913.1,856.9 914.1,858.0 915.1,857.3 916.1,858.6 917.1,856.6 918.1,857.4 919.1,856.8 920.1,856.4 921.1,856.6 922.1,856.6 923.1,857.2 924.1,857.3 925.1,857.5 926.1,857.0 927.1,857.9 928.1,857.5 929.1,858.5 930.1,856.7 931.1,857.4 932.1,857.4 933.1,857.1 934.1,858.2 935.1,856.7 936.1,858.2 937.1,857.0 938.1,856.9 939.1,857.5 940.1,857.3 941.1,856.5 942.1,855.6 943.1,856.5 944.1,853.5 945.1,851.1 946.1,851.5 947.1,852.1 948.1,853.2 949.1,854.2 950.1,854.8 951.1,851.4 952.1,847.6 953.1,844.4 954.1,840.3 955.1,841.2 956.1,844.4 957.1,850.0 958.1,853.6 959.1,855.2 960.1,856.2 961.1,856.2 962.1,857.6 963.1,857.0 964.1,857.9 965.1,856.9 966.1,857.7 967.1,856.2 968.1,856.6 969.1,858.1 970.1,857.3 971.1,856.9 972.1,855.8 973.1,854.7 974.1,853.1 975.1,852.7 976.1,854.3 977.1,855.4 978.1,855.4 979.1,857.0 980.1,856.2 981.1,857.5 982.1,856.6 983.1,857.3 984.1,856.9 985.1,857.4 986.1,856.5 987.1,857.3 988.1,857.5 989.1,856.4 990.1,856.5 991.1,856.8 992.1,855.5 993.1,854.4 994.1,853.5 995.1,852.6 996.1,852.5 997.1,854.3 998.1,856.4 999.1,856.7 1000.1,857.6 1001.1,856.9 1002.1,857.2 1003.1,858.4 1004.1,858.1 1005.1,857.8 1006.1,856.6 1007.1,857.7 1008.1,856.4 1009.1,858.4 1010.1,858.5 1011.1,858.0 1012.1,857.0 1013.1,858.2 1014.1,856.8 1015.1,858.2 1016.1,857.5 1017.1,856.4 1018.1,858.3 1019.1,857.4 1020.1,858.2 1021.1,857.9 1022.1,857.6 1023.1,858.3 1024.1,856.8 1025.1,858.4 1026.1,857.1 1027.1,856.4 1028.1,857.1"/>
<polyline fill="none" stroke="#000000" stroke-width="5.8" stroke-linejoin="round" points="114.1,955.2 115.1,955.2 116.1,956.5 117.1,955.4 118.1,955.4 119.1,955.7 120.1,955.7 121.1,957.1 122.1,957.1 123.1,957.0 124.1,957.3 125.1,956.0 126.1,956.8 127.1,955.7 128.1,957.1 129.1,956.9 130.1,956.7 131.1,955.6 132.1,955.3 133.1,957.1 134.1,956.3 135.1,956.4 136.1,956.9 137.1,955.4 138.1,956.6 139.1,956.0 140.1,956.7 141.1,956.0 142.1,955.4 143.1,957.0 144.1,955.5 145.1,956.5 146.1,956.6 147.1,955.1 148.1,955.7 149.1,953.8 150.1,950.8 151.1,946.9 152.1,944.7 153.1,942.6 154.1,945.9 155.1,950.0 156.1,952.1 157.1,955.4 158.1,956.1 159.1,956.6 160.1,955.6 161.1,955.3 162.1,955.7 163.1,956.6 164.1,956.4 165.1,955.9 166.1,956.2 167.1,955.4 168.1,957.1 169.1,956.1 170.1,956.2 171.1,956.8 172.1,955.5 173.1,956.7 174.1,955.8 175.1,956.9 176.1,955.3 177.1,955.7 178.1,956.5 179.1,956.1 180.1,955.9 181.1,956.4 182.1,955.6 183.1,956.0 184.1,955.1 185.1,956.8 186.1,955.6 187.1,956.9 188.1,956.3 189.1,956.4 190.1,956.5 191.1,955.4 192.1,956.8 193.1,955.7 194.1,957.0 195.1,956.8 196.1,956.6 197.1,956.9 198.1,956.1 199.1,956.6 200.1,957.2 201.1,955.5 202.1,955.3 203.1,956.0 204.1,956.2 205.1,955.4 206.1,955.6 207.1,957.0 208.1,955.9 209.1,955.4 210.1,955.5 211.1,956.4 212.1,955.5 213.1,956.1 214.1,956.3 215.1,956.0 216.1,956.2 217.1,956.9 218.1,955.1 219.1,957.1 220.1,955.5 221.1,955.1 222.1,956.7 223.1,956.3 224.1,956.2 225.1,955.5 226.1,956.8 227.1,955.7 228.1,956.6 229.1,955.5 230.1,956.3 231.1,956.4 232.1,955.8 233.1,956.0 234.1,955.0 235.1,956.3 236.1,956.3 237.1,955.0 238.1,955.8 239.1,955.9 240.1,953.6 241.1,953.0 242.1,948.8 243.1,941.2 244.1,937.1 245.1,937.3 246.1,942.8 247.1,948.1 248.1,952.8 249.1,954.2 250.1,955.0 251.1,955.6 252.1,955.5 253.1,956.5 254.1,956.4 255.1,955.1 256.1,955.4 257.1,954.9 258.1,955.6 259.1,955.2 260.1,956.5 261.1,956.7 262.1,957.1 263.1,955.4 264.1,955.0 265.1,956.5 266.1,955.8 267.1,956.9 268.1,955.6 269.1,955.4 270.1,954.8 271.1,956.5 272.1,955.1 273.1,953.8 274.1,951.0 275.1,946.9 276.1,941.2 277.1,937.1 278.1,938.7 279.1,944.9 280.1,951.2 281.1,953.3 282.1,955.3 283.1,955.6 284.1,955.6 285.1,955.9 286.1,955.3 287.1,956.0 288.1,956.7 289.1,955.0 290.1,955.7 291.1,956.8 292.1,957.0 293.1,954.9 294.1,956.2 295.1,956.2 296.1,956.6 297.1,955.8 298.1,954.9 299.1,955.2 300.1,956.0 301.1,955.8 302.1,954.2 303.1,953.8 304.1,950.4 305.1,943.6 306.1,932.5 307.1,925.3 308.1,925.1 309.1,933.8 310.1,942.9 311.1,949.3 312.1,953.9 313.1,954.4 314.1,956.0 315.1,955.1 316.1,955.8 317.1,956.5 318.1,955.0 319.1,956.4 320.1,955.0 321.1,957.0 322.1,955.0 323.1,956.5 324.1,955.8 325.1,955.4 326.1,955.9 327.1,956.1 328.1,955.9 329.1,955.3 330.1,956.2 331.1,955.7 332.1,957.2 333.1,955.9 334.1,956.0 335.1,955.5 336.1,957.2 337.1,955.7 338.1,956.5 339.1,956.9 340.1,955.9 341.1,956.7 342.1,955.7 343.1,955.3 344.1,955.1 345.1,956.0 346.1,957.0 347.1,955.5 348.1,956.0 349.1,956.7 350.1,955.6 351.1,955.4 352.1,956.2 353.1,956.0 354.1,957.1 355.1,957.0 356.1,955.6 357.1,956.3 358.1,955.9 359.1,955.1 360.1,956.0 361.1,957.0 362.1,955.7 363.1,956.3 364.1,956.5 365.1,955.1 366.1,957.0 367.1,955.1 368.1,955.5 369.1,956.4 370.1,954.8 371.1,955.5 372.1,954.8 373.1,955.3 374.1,953.6 375.1,952.5 376.1,949.7 377.1,944.7 378.1,939.1 379.1,935.1 380.1,935.8 381.1,939.2 382.1,946.3 383.1,950.1 384.1,952.6 385.1,954.1 386.1,956.1 387.1,954.6 388.1,956.3 389.1,954.9 390.1,956.9 391.1,955.7 392.1,956.2 393.1,956.8 394.1,955.1 395.1,955.1 396.1,956.4 397.1,956.2 398.1,956.5 399.1,955.6 400.1,956.0 401.1,955.3 402.1,955.9 403.1,955.5 404.1,956.2 405.1,955.6 406.1,955.5 407.1,956.3 408.1,955.0 409.1,956.6 410.1,955.9 411.1,955.2 412.1,954.9 413.1,955.6 414.1,955.5 415.1,955.6 416.1,954.0 417.1,951.7 418.1,947.6 419.1,937.7 420.1,930.0 421.1,926.1 422.1,931.7 423.1,941.1 424.1,947.5 425.1,953.3 426.1,954.8 427.1,954.6 428.1,956.6 429.1,956.0 430.1,956.5 431.1,956.0 432.1,955.0 433.1,956.8 434.1,955.3 435.1,955.5 436.1,956.3 437.1,955.4 438.1,956.0 439.1,956.6 440.1,955.2 441.1,956.5 442.1,955.2 443.1,956.1 444.1,956.4 445.1,956.5 446.1,955.1 447.1,955.5 448.1,957.1 449.1,955.9 450.1,956.0 451.1,955.9 452.1,956.6 453.1,956.7 454.1,956.5 455.1,955.9 456.1,956.3 457.1,956.2 458.1,955.5 459.1,957.1 460.1,957.2 461.1,956.7 462.1,957.2 463.1,956.0 464.1,956.9 465.1,955.6 466.1,956.7 467.1,956.6 468.1,957.1 469.1,956.8 470.1,956.9 471.1,955.5 472.1,956.6 473.1,955.7 474.1,955.1 475.1,954.5 476.1,954.0 477.1,951.9 478.1,949.4 479.1,947.3 480.1,946.4 481.1,948.4 482.1,951.8 483.1,953.1 484.1,954.6 485.1,954.7 486.1,955.1 487.1,956.4 488.1,955.4 489.1,956.8 490.1,955.7 491.1,956.9 492.1,955.7 493.1,955.6 494.1,955.9 495.1,955.1 496.1,956.0 497.1,955.9 498.1,955.1 499.1,957.0 500.1,955.9 501.1,955.1 502.1,957.2 503.1,955.6 504.1,955.6 505.1,955.1 506.1,955.3 507.1,956.6 508.1,956.4 509.1,956.2 510.1,955.6 511.1,955.7 512.1,957.2 513.1,955.9 514.1,957.3 515.1,957.0 516.1,955.3 517.1,956.9 518.1,955.1 519.1,956.6 520.1,956.9 521.1,956.6 522.1,956.3 523.1,956.9 524.1,955.4 525.1,956.3 526.1,955.7 527.1,955.9 528.1,955.5 529.1,956.6 530.1,956.3 531.1,956.8 532.1,956.4 533.1,956.4 534.1,957.1 535.1,956.8 536.1,956.3 537.1,955.8 538.1,957.1 539.1,955.8 540.1,955.2 541.1,955.7 542.1,956.5 543.1,957.0 544.1,956.4 545.1,956.4 546.1,957.0 547.1,956.6 548.1,955.8 549.1,955.7 550.1,956.2 551.1,954.9 552.1,953.6 553.1,952.9 554.1,950.2 555.1,944.7 556.1,941.6 557.1,940.6 558.1,941.1 559.1,945.3 560.1,950.2 561.1,952.7 562.1,955.6 563.1,956.5 564.1,955.6 565.1,956.5 566.1,956.2 567.1,955.2 568.1,957.0 569.1,955.3 570.1,955.1 571.1,955.9 572.1,955.0 573.1,956.0 574.1,955.9 575.1,957.1 576.1,955.9 577.1,956.9 578.1,956.7 579.1,956.3 580.1,955.5 581.1,955.7 582.1,956.1 583.1,955.9 584.1,956.4 585.1,956.1 586.1,955.7 587.1,956.3 588.1,957.1 589.1,955.4 590.1,955.6 591.1,954.9 592.1,955.0 593.1,954.7 594.1,955.1 595.1,955.0 596.1,952.9 597.1,950.8 598.1,947.6 599.1,945.4 600.1,946.2 601.1,947.5 602.1,951.2 603.1,953.1 604.1,955.2 605.1,954.6 606.1,955.9 607.1,955.6 608.1,956.0 609.1,955.8 610.1,955.2 611.1,956.6 612.1,956.8 613.1,956.3 614.1,955.3 615.1,956.3 616.1,957.0 617.1,957.2 618.1,956.7 619.1,955.2 620.1,957.0 621.1,956.5 622.1,955.7 623.1,957.1 624.1,956.9 625.1,957.0 626.1,955.6 627.1,956.3 628.1,955.9 629.1,955.7 630.1,956.8 631.1,956.4 632.1,955.8 633.1,956.3 634.1,957.1 635.1,956.3 636.1,957.1 637.1,956.3 638.1,957.3 639.1,955.2 640.1,956.1 641.1,956.3 642.1,956.7 643.1,957.2 644.1,956.5 645.1,956.1 646.1,956.5 647.1,956.3 648.1,956.6 649.1,957.2 650.1,955.1 651.1,955.8 652.1,957.0 653.1,955.2 654.1,956.8 655.1,955.2 656.1,956.5 657.1,956.9 658.1,955.6 659.1,955.9 660.1,955.6 661.1,956.6 662.1,956.3 663.1,956.4 664.1,955.8 665.1,956.4 666.1,957.2 667.1,956.8 668.1,957.2 669.1,955.6 670.1,956.2 671.1,955.9 672.1,955.9 673.1,956.9 674.1,955.5 675.1,956.3 676.1,956.8 677.1,957.2 678.1,955.1 679.1,955.7 680.1,956.2 681.1,957.2 682.1,955.4 683.1,956.9 684.1,956.0 685.1,956.3 686.1,957.1 687.1,955.2 688.1,955.8 689.1,955.4 690.1,955.4 691.1,955.7 692.1,956.6 693.1,956.3 694.1,955.3 695.1,956.8 696.1,956.2 697.1,955.3 698.1,956.8 699.1,956.8 700.1,955.4 701.1,956.9 702.1,956.3 703.1,954.4 704.1,953.0 705.1,953.8 706.1,953.0 707.1,951.5 708.1,953.8 709.1,954.9 710.1,955.4 711.1,956.4 712.1,957.0 713.1,955.7 714.1,956.8 715.1,957.0 716.1,955.7 717.1,956.6 718.1,956.6 719.1,956.9 720.1,956.3 721.1,955.7 722.1,955.6 723.1,956.3 724.1,955.4 725.1,957.0 726.1,957.0 727.1,955.6 728.1,956.6 729.1,956.6 730.1,955.4 731.1,956.8 732.1,956.8 733.1,955.8 734.1,955.3 735.1,955.7 736.1,956.8 737.1,956.1 738.1,956.9 739.1,955.4 740.1,955.3 741.1,955.9 742.1,957.0 743.1,955.5 744.1,955.3 745.1,956.8 746.1,955.3 747.1,956.6 748.1,955.3 749.1,955.6 750.1,956.6 751.1,957.0 752.1,956.0 753.1,956.1 754.1,955.2 755.1,955.8 756.1,955.6 757.1,956.8 758.1,956.7 759.1,956.8 760.1,956.3 761.1,956.6 762.1,955.4 763.1,955.9 764.1,955.7 765.1,955.7 766.1,956.7 767.1,955.6 768.1,955.8 769.1,955.7 770.1,957.0 771.1,956.5 772.1,956.2 773.1,955.9 774.1,957.1 775.1,957.2 776.1,956.1 777.1,956.3 778.1,957.0 779.1,955.7 780.1,955.7 781.1,955.3 782.1,956.2 783.1,956.8 784.1,955.4 785.1,956.1 786.1,957.3 787.1,956.2 788.1,955.9 789.1,956.9 790.1,957.1 791.1,955.9 792.1,955.4 793.1,956.5 794.1,956.7 795.1,957.1 796.1,956.6 797.1,955.8 798.1,956.2 799.1,955.7 800.1,956.1 801.1,956.1 802.1,957.1 803.1,957.1 804.1,957.1 805.1,956.2 806.1,957.2 807.1,955.4 808.1,957.1 809.1,956.5 810.1,957.0 811.1,956.0 812.1,957.3 813.1,955.2 814.1,957.0 815.1,956.9 816.1,955.9 817.1,956.9 818.1,955.6 819.1,956.8 820.1,956.1 821.1,956.0 822.1,955.5 823.1,956.9 824.1,956.7 825.1,955.3 826.1,957.2 827.1,955.6 828.1,955.9 829.1,956.0 830.1,956.4 831.1,957.1 832.1,957.2 833.1,956.5 834.1,955.9 835.1,955.3 836.1,955.2 837.1,956.2 838.1,956.4 839.1,956.1 840.1,957.3 841.1,956.0 842.1,955.9 843.1,956.0 844.1,955.5 845.1,957.2 846.1,956.4 847.1,956.3 848.1,956.0 849.1,955.6 850.1,955.8 851.1,956.2 852.1,956.1 853.1,957.2 854.1,956.3 855.1,955.5 856.1,955.2 857.1,955.4 858.1,955.8 859.1,956.8 860.1,957.0 861.1,955.6 862.1,956.8 863.1,956.0 864.1,956.2 865.1,956.2 866.1,955.1 867.1,955.1 868.1,956.4 869.1,956.4 870.1,955.6 871.1,956.4 872.1,955.4 873.1,953.1 874.1,951.1 875.1,951.1 876.1,951.1 877.1,951.2 878.1,952.3 879.1,954.5 880.1,954.3 881.1,956.3 882.1,956.2 883.1,955.6 884.1,956.0 885.1,955.5 886.1,955.4 887.1,955.4 888.1,956.8 889.1,956.1 890.1,956.6 891.1,955.8 892.1,956.8 893.1,956.4 894.1,956.5 895.1,955.9 896.1,956.3 897.1,955.5 898.1,957.2 899.1,956.6 900.1,956.3 901.1,956.5 902.1,955.3 903.1,955.8 904.1,955.6 905.1,956.9 906.1,955.1 907.1,956.1 908.1,957.0 909.1,956.8 910.1,956.7 911.1,955.7 912.1,955.6 913.1,956.6 914.1,955.7 915.1,956.7 916.1,955.8 917.1,956.7 918.1,956.3 919.1,956.9 920.1,957.2 921.1,955.9 922.1,957.2 923.1,955.1 924.1,957.0 925.1,955.1 926.1,956.3 927.1,955.9 928.1,956.7 929.1,955.7 930.1,955.5 931.1,956.8 932.1,956.2 933.1,956.7 934.1,956.1 935.1,955.1 936.1,956.7 937.1,955.5 938.1,956.0 939.1,954.9 940.1,955.4 941.1,956.2 942.1,956.1 943.1,955.1 944.1,953.6 945.1,953.0 946.1,952.3 947.1,951.8 948.1,953.4 949.1,953.8 950.1,953.1 951.1,949.6 952.1,946.7 953.1,944.3 954.1,943.5 955.1,946.2 956.1,950.3 957.1,952.7 958.1,953.6 959.1,955.8 960.1,954.8 961.1,956.4 962.1,955.1 963.1,955.1 964.1,955.4 965.1,956.0 966.1,955.5 967.1,956.9 968.1,957.0 969.1,955.5 970.1,956.3 971.1,955.9 972.1,955.0 973.1,953.6 974.1,954.4 975.1,954.1 976.1,952.5 977.1,953.9 978.1,954.7 979.1,954.9 980.1,955.7 981.1,956.9 982.1,955.0 983.1,956.8 984.1,955.7 985.1,955.0 986.1,957.0 987.1,955.6 988.1,955.4 989.1,955.1 990.1,955.6 991.1,954.7 992.1,954.2 993.1,953.6 994.1,953.6 995.1,953.1 996.1,953.1 997.1,954.4 998.1,955.7 999.1,956.1 1000.1,955.6 1001.1,957.0 1002.1,956.7 1003.1,956.3 1004.1,956.1 1005.1,955.8 1006.1,955.4 1007.1,957.0 1008.1,956.4 1009.1,955.3 1010.1,957.1 1011.1,957.0 1012.1,955.2 1013.1,956.6 1014.1,955.6 1015.1,956.3 1016.1,956.9 1017.1,955.9 1018.1,956.2 1019.1,956.6 1020.1,955.5 1021.1,956.5 1022.1,956.0 1023.1,957.3 1024.1,955.5 1025.1,956.7 1026.1,955.2 1027.1,955.7 1028.1,955.4"/>
<rect x="112.6" y="63.0" width="917.8" height="936.0" fill="none" stroke="#000" stroke-width="3.6"/>
<g stroke="#000" stroke-width="3">
<line x1="204.4" y1="999.0" x2="204.4" y2="990.5"/>
<line x1="296.2" y1="999.0" x2="296.2" y2="982.0"/>
<line x1="387.9" y1="999.0" x2="387.9" y2="990.5"/>
<line x1="479.7" y1="999.0" x2="479.7" y2="982.0"/>
<line x1="571.5" y1="999.0" x2="571.5" y2="990.5"/>
<line x1="663.3" y1="999.0" x2="663.3" y2="982.0"/>
<line x1="755.1" y1="999.0" x2="755.1" y2="990.5"/>
<line x1="846.8" y1="999.0" x2="846.8" y2="982.0"/>
<line x1="938.6" y1="999.0" x2="938.6" y2="990.5"/>
</g>
<g font-family="'Liberation Sans', Arial, Helvetica, sans-serif" font-size="43" fill="#000" text-anchor="middle">
<text x="112.6" y="1047.5">30</text>
<text x="296.2" y="1047.5">40</text>
<text x="479.7" y="1047.5">50</text>
<text x="663.3" y="1047.5">60</text>
<text x="846.8" y="1047.5">70</text>
<text x="1030.4" y="1047.5">80</text>
</g>
<g font-family="'Liberation Sans', Arial, Helvetica, sans-serif" font-size="37.5" font-weight="bold" text-anchor="middle">
<text x="775.5" y="107.9" fill="#cc0000">Ge12.5</text>
<text x="775.5" y="315.7" fill="#f08a10">Ge6.25</text>
<text x="779" y="467.0" fill="#fbbd00">Ge3.125</text>
<text x="773.5" y="606.0" fill="#0c0c96">Si12.5</text>
<text x="773.5" y="730.0" fill="#0808ee">Si6.25</text>
<text x="777.5" y="835.0" fill="#1a8cc4">Si3.125</text>
<text x="770" y="941.2" fill="#000000">MnB</text>
</g>
<g font-family="'Liberation Sans', Arial, Helvetica, sans-serif">
<text x="1037.5" y="156.5" fill="#5e0b34" font-size="28"><tspan>Mn</tspan><tspan font-size="18" dy="6.9">23</tspan><tspan dy="-6.9">Ge</tspan><tspan font-size="18" dy="6.9">9</tspan></text>
<text x="1037.5" y="184.4" fill="#820c45" font-size="28"><tspan>Mn</tspan><tspan font-size="18" dy="6.9">5</tspan><tspan dy="-6.9">Ge</tspan><tspan font-size="18" dy="6.9">3</tspan></text>
<text x="1037.5" y="213.1" fill="#e2389a" font-size="28"><tspan>Mn</tspan><tspan font-size="18" dy="6.9">2</tspan><tspan dy="-6.9">B</tspan></text>
<text x="1037.5" y="243.0" fill="#ec74b6" font-size="28"><tspan>MnB</tspan><tspan font-size="18" dy="6.9">2</tspan></text>
<text x="1037.5" y="273.9" fill="#f4b2d4" font-size="28"><tspan>Mn</tspan><tspan font-size="18" dy="6.9">3</tspan><tspan dy="-6.9">Ge</tspan><tspan font-size="18" dy="6.9">1</tspan></text>
<text x="1037.5" y="655.0" fill="#561070" font-size="28"><tspan>Mn</tspan><tspan font-size="18" dy="6.9">5</tspan><tspan dy="-6.9">Si</tspan><tspan font-size="18" dy="6.9">3</tspan></text>
<text x="1037.5" y="682.5" fill="#d84fe4" font-size="28"><tspan>MnSi</tspan></text>
</g>
<text transform="translate(55.3,863) rotate(-90)" font-family="'Liberation Sans', Arial, Helvetica, sans-serif" font-size="54.5" fill="#000">Intensity Counts (arb. units)</text>
<g font-family="'Liberation Sans', Arial, Helvetica, sans-serif" font-size="54" fill="#000"><text x="506.2" y="1117.4">2</text><text x="536.5" y="1117.4">&#952;</text><text x="580.8" y="1117.4">(</text><text x="599" y="1097.5" font-size="32">o</text><text x="619.9" y="1117.4">)</text></g>
<text x="971" y="44" font-family="'Liberation Sans', Arial, Helvetica, sans-serif" font-size="48" font-weight="bold" fill="#000">(a)</text>
<text x="1171" y="44" font-family="'Liberation Sans', Arial, Helvetica, sans-serif" font-size="48" font-weight="bold" fill="#000">(b)</text>
<g stroke="#808080" stroke-width="5" fill="none" stroke-linejoin="round">
<polyline points="1198.0,156.3 1283.3,296.4 1368.6,361.8 1539.2,567.3"/>
<polyline points="1198.0,156.3 1283.3,352.4 1368.6,539.2 1539.2,847.5"/>
</g>
<rect x="1184.6" y="142.4" width="26.2" height="25.4" fill="#000"/>
<path d="M1283.2,274.7 L1299.5,305.8 L1265.3,305.8 Z" fill="#1a8cc4" stroke="#1a8cc4" stroke-width="1" stroke-linejoin="round"/>
<rect x="1272.6" y="297.6" width="20.6" height="3.2" fill="#fff"/>
<circle cx="1283.2" cy="351" r="15" fill="#fbbd00"/>
<path d="M1273.8,354.4 L1292.6,354.4 A9.4,6.4 0 0 1 1273.8,354.4 Z" fill="#fff"/>
<path d="M1368.4,343.5 L1383.6,371.2 L1353.4,371.2 Z" fill="#0808ee" stroke="#0808ee" stroke-width="4.4" stroke-linejoin="round"/>
<line x1="1348.6" y1="362.2" x2="1388.2" y2="362.2" stroke="#0808ee" stroke-width="4.2" stroke-linecap="round"/>
<line x1="1368.2" y1="342" x2="1368.2" y2="381.5" stroke="#0808ee" stroke-width="5" stroke-linecap="round"/>
<rect x="1358.5" y="365.4" width="19" height="2.6" fill="#fff" opacity="0.9"/>
<g stroke="#f08a10" stroke-width="3.8" fill="none" stroke-linecap="round"><circle cx="1368.4" cy="539.6" r="12.6"/><line x1="1355.5" y1="527.2" x2="1381.5" y2="527.2"/><line x1="1355.5" y1="552.2" x2="1381.5" y2="552.2"/><line x1="1359.6" y1="530.4" x2="1377.4" y2="549"/><line x1="1377.4" y1="530.4" x2="1359.6" y2="549"/></g>
<path d="M1538.4,550.8 L1553.7,576.6 L1523.4,576.6 Z" fill="#fff" stroke="#1212a8" stroke-width="4.6" stroke-linejoin="round"/>
<circle cx="1538.6" cy="848.8" r="12.6" fill="#fff" stroke="#d20010" stroke-width="4.8"/>
<rect x="1186.3" y="861.6" width="325.2" height="89.8" fill="#fff" stroke="#222" stroke-width="1.4"/>
<g font-family="'Liberation Sans', Arial, Helvetica, sans-serif" font-size="24" fill="#7f7f7f">
<text x="1190.5" y="885.3">Triangular symbols</text>
<text x="1404" y="885.3">Si-series</text>
<text x="1190" y="913.8">Circular symbols</text>
<text x="1405.4" y="913.8">Ge-series</text>
</g>
<text x="1406.2" y="943.3" font-family="'Liberation Sans', Arial, Helvetica, sans-serif" font-size="22.5" fill="#000">MnB</text>
<rect x="1269.4" y="924.3" width="24.8" height="23.2" fill="#000"/>
<rect x="1171.2" y="63.0" width="409.1" height="936.0" fill="none" stroke="#000" stroke-width="3.4"/>
<g stroke="#000" stroke-width="3">
<line x1="1198.0" y1="999.0" x2="1198.0" y2="984.0"/>
<line x1="1239.0" y1="999.0" x2="1239.0" y2="992.0"/>
<line x1="1279.9" y1="999.0" x2="1279.9" y2="984.0"/>
<line x1="1320.8" y1="999.0" x2="1320.8" y2="992.0"/>
<line x1="1361.8" y1="999.0" x2="1361.8" y2="984.0"/>
<line x1="1402.8" y1="999.0" x2="1402.8" y2="992.0"/>
<line x1="1443.7" y1="999.0" x2="1443.7" y2="984.0"/>
<line x1="1484.7" y1="999.0" x2="1484.7" y2="992.0"/>
<line x1="1525.6" y1="999.0" x2="1525.6" y2="984.0"/>
<line x1="1566.5" y1="999.0" x2="1566.5" y2="992.0"/>
<line x1="1580.3" y1="903.5" x2="1563.3" y2="903.5"/>
<line x1="1580.3" y1="810.1" x2="1571.8" y2="810.1"/>
<line x1="1580.3" y1="716.7" x2="1563.3" y2="716.7"/>
<line x1="1580.3" y1="623.3" x2="1571.8" y2="623.3"/>
<line x1="1580.3" y1="529.9" x2="1563.3" y2="529.9"/>
<line x1="1580.3" y1="436.5" x2="1571.8" y2="436.5"/>
<line x1="1580.3" y1="343.1" x2="1563.3" y2="343.1"/>
<line x1="1580.3" y1="249.7" x2="1571.8" y2="249.7"/>
<line x1="1580.3" y1="156.3" x2="1563.3" y2="156.3"/>
</g>
<g font-family="'Liberation Sans', Arial, Helvetica, sans-serif" font-size="43" fill="#000" text-anchor="middle">
<text x="1198.0" y="1051.4">0</text>
<text x="1279.9" y="1051.4">3</text>
<text x="1361.8" y="1051.4">6</text>
<text x="1443.7" y="1051.4">9</text>
<text x="1525.6" y="1051.4">12</text>
</g>
<g font-family="'Liberation Sans', Arial, Helvetica, sans-serif" font-size="34" fill="#000">
<text x="1592.8" y="913.3">20</text>
<text x="1592.8" y="726.5">40</text>
<text x="1592.8" y="539.7">60</text>
<text x="1592.8" y="352.9">80</text>
<text x="1592.8" y="166.1">100</text>
</g>
<text transform="translate(1707.3,807) rotate(-90)" font-family="'Liberation Sans', Arial, Helvetica, sans-serif" font-size="54.5" fill="#000">FeB-type phase (wt.%)</text>
<text x="1312.6" y="1120.6" font-family="'Liberation Serif', 'Times New Roman', serif" font-size="56" fill="#000">&#967;</text>
<g font-family="'Liberation Sans', Arial, Helvetica, sans-serif" font-size="54" fill="#000"><text x="1354.7" y="1120.6">(</text><text x="1374.8" y="1120.6">%</text><text x="1424" y="1120.6">)</text></g>
</svg>
</body></html>
